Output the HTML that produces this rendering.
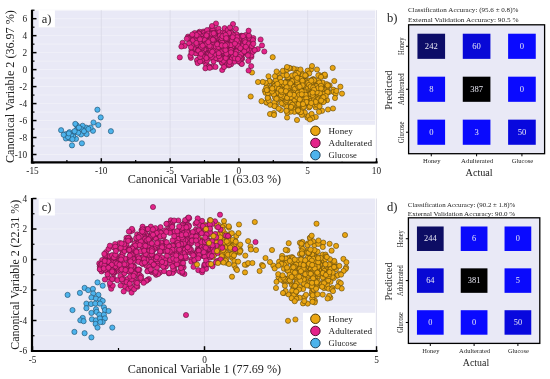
<!DOCTYPE html>
<html><head><meta charset="utf-8"><title>Figure</title>
<style>html,body{margin:0;padding:0;background:#fff}svg{display:block}</style></head>
<body><svg width="550" height="379" viewBox="0 0 550 379">
<rect width="550" height="379" fill="#fff"/>
<rect x="32.5" y="10.6" width="342.8" height="152.4" fill="#e9e9f6"/>
<line x1="32.5" x2="375.3" y1="163.00" y2="163.00" stroke="#f1f1f9" stroke-width="0.8"/>
<line x1="32.5" x2="375.3" y1="146.02" y2="146.02" stroke="#f1f1f9" stroke-width="0.8"/>
<line x1="32.5" x2="375.3" y1="129.04" y2="129.04" stroke="#f1f1f9" stroke-width="0.8"/>
<line x1="32.5" x2="375.3" y1="112.07" y2="112.07" stroke="#f1f1f9" stroke-width="0.8"/>
<line x1="32.5" x2="375.3" y1="95.09" y2="95.09" stroke="#f1f1f9" stroke-width="0.8"/>
<line x1="32.5" x2="375.3" y1="78.11" y2="78.11" stroke="#f1f1f9" stroke-width="0.8"/>
<line x1="32.5" x2="375.3" y1="61.13" y2="61.13" stroke="#f1f1f9" stroke-width="0.8"/>
<line x1="32.5" x2="375.3" y1="44.16" y2="44.16" stroke="#f1f1f9" stroke-width="0.8"/>
<line x1="32.5" x2="375.3" y1="27.18" y2="27.18" stroke="#f1f1f9" stroke-width="0.8"/>
<line x1="32.5" x2="375.3" y1="10.20" y2="10.20" stroke="#f1f1f9" stroke-width="0.8"/>
<line x1="32.5" x2="375.3" y1="154.51" y2="154.51" stroke="#f1f1f9" stroke-width="0.8"/>
<line x1="32.5" x2="375.3" y1="137.53" y2="137.53" stroke="#f1f1f9" stroke-width="0.8"/>
<line x1="32.5" x2="375.3" y1="120.56" y2="120.56" stroke="#f1f1f9" stroke-width="0.8"/>
<line x1="32.5" x2="375.3" y1="103.58" y2="103.58" stroke="#f1f1f9" stroke-width="0.8"/>
<line x1="32.5" x2="375.3" y1="86.60" y2="86.60" stroke="#f1f1f9" stroke-width="0.8"/>
<line x1="32.5" x2="375.3" y1="69.62" y2="69.62" stroke="#f1f1f9" stroke-width="0.8"/>
<line x1="32.5" x2="375.3" y1="52.64" y2="52.64" stroke="#f1f1f9" stroke-width="0.8"/>
<line x1="32.5" x2="375.3" y1="35.67" y2="35.67" stroke="#f1f1f9" stroke-width="0.8"/>
<line x1="32.5" x2="375.3" y1="18.69" y2="18.69" stroke="#f1f1f9" stroke-width="0.8"/>
<line y1="10.2" y2="163" x1="32.50" x2="32.50" stroke="#d9d9e6" stroke-width="0.8"/>
<line y1="10.2" y2="163" x1="101.30" x2="101.30" stroke="#d9d9e6" stroke-width="0.8"/>
<line y1="10.2" y2="163" x1="170.10" x2="170.10" stroke="#d9d9e6" stroke-width="0.8"/>
<line y1="10.2" y2="163" x1="238.90" x2="238.90" stroke="#d9d9e6" stroke-width="0.8"/>
<line y1="10.2" y2="163" x1="307.70" x2="307.70" stroke="#d9d9e6" stroke-width="0.8"/>
<line y1="10.2" y2="163" x1="376.50" x2="376.50" stroke="#d9d9e6" stroke-width="0.8"/>
<g fill="#eaa512" stroke="#5c440a" stroke-width="0.6">
<circle cx="299.0" cy="97.1" r="2.6"/>
<circle cx="293.9" cy="82.8" r="2.6"/>
<circle cx="290.6" cy="81.6" r="2.6"/>
<circle cx="300.1" cy="109.6" r="2.6"/>
<circle cx="289.9" cy="86.1" r="2.6"/>
<circle cx="308.1" cy="97.8" r="2.6"/>
<circle cx="301.0" cy="82.3" r="2.6"/>
<circle cx="298.5" cy="101.8" r="2.6"/>
<circle cx="274.1" cy="88.0" r="2.6"/>
<circle cx="264.9" cy="90.7" r="2.6"/>
<circle cx="275.6" cy="96.8" r="2.6"/>
<circle cx="301.9" cy="91.3" r="2.6"/>
<circle cx="298.1" cy="94.9" r="2.6"/>
<circle cx="270.7" cy="87.8" r="2.6"/>
<circle cx="280.9" cy="83.8" r="2.6"/>
<circle cx="318.6" cy="83.8" r="2.6"/>
<circle cx="298.4" cy="104.1" r="2.6"/>
<circle cx="288.2" cy="92.2" r="2.6"/>
<circle cx="301.0" cy="94.3" r="2.6"/>
<circle cx="276.3" cy="94.4" r="2.6"/>
<circle cx="324.1" cy="74.9" r="2.6"/>
<circle cx="314.9" cy="94.9" r="2.6"/>
<circle cx="287.1" cy="117.5" r="2.6"/>
<circle cx="313.1" cy="79.1" r="2.6"/>
<circle cx="300.4" cy="100.4" r="2.6"/>
<circle cx="295.5" cy="101.7" r="2.6"/>
<circle cx="297.8" cy="101.5" r="2.6"/>
<circle cx="325.6" cy="85.4" r="2.6"/>
<circle cx="302.8" cy="87.9" r="2.6"/>
<circle cx="301.4" cy="79.3" r="2.6"/>
<circle cx="288.3" cy="91.1" r="2.6"/>
<circle cx="315.6" cy="107.2" r="2.6"/>
<circle cx="274.5" cy="84.0" r="2.6"/>
<circle cx="311.0" cy="69.6" r="2.6"/>
<circle cx="290.4" cy="92.3" r="2.6"/>
<circle cx="322.3" cy="101.8" r="2.6"/>
<circle cx="292.9" cy="89.1" r="2.6"/>
<circle cx="294.4" cy="111.8" r="2.6"/>
<circle cx="291.1" cy="89.9" r="2.6"/>
<circle cx="305.5" cy="92.1" r="2.6"/>
<circle cx="295.4" cy="80.1" r="2.6"/>
<circle cx="298.8" cy="88.2" r="2.6"/>
<circle cx="320.6" cy="101.3" r="2.6"/>
<circle cx="298.6" cy="101.5" r="2.6"/>
<circle cx="292.7" cy="106.1" r="2.6"/>
<circle cx="298.9" cy="100.5" r="2.6"/>
<circle cx="275.1" cy="97.7" r="2.6"/>
<circle cx="293.4" cy="82.7" r="2.6"/>
<circle cx="283.6" cy="86.0" r="2.6"/>
<circle cx="302.8" cy="99.4" r="2.6"/>
<circle cx="295.7" cy="91.0" r="2.6"/>
<circle cx="312.0" cy="99.7" r="2.6"/>
<circle cx="279.9" cy="92.5" r="2.6"/>
<circle cx="299.7" cy="80.8" r="2.6"/>
<circle cx="303.8" cy="83.2" r="2.6"/>
<circle cx="317.0" cy="95.8" r="2.6"/>
<circle cx="300.7" cy="86.4" r="2.6"/>
<circle cx="296.8" cy="69.5" r="2.6"/>
<circle cx="278.1" cy="97.9" r="2.6"/>
<circle cx="266.7" cy="102.6" r="2.6"/>
<circle cx="283.4" cy="102.8" r="2.6"/>
<circle cx="301.4" cy="75.1" r="2.6"/>
<circle cx="322.1" cy="110.8" r="2.6"/>
<circle cx="297.8" cy="90.2" r="2.6"/>
<circle cx="296.0" cy="81.8" r="2.6"/>
<circle cx="319.3" cy="87.0" r="2.6"/>
<circle cx="298.1" cy="84.0" r="2.6"/>
<circle cx="287.4" cy="78.2" r="2.6"/>
<circle cx="322.3" cy="91.7" r="2.6"/>
<circle cx="316.9" cy="93.7" r="2.6"/>
<circle cx="286.2" cy="89.6" r="2.6"/>
<circle cx="288.6" cy="93.6" r="2.6"/>
<circle cx="292.1" cy="89.9" r="2.6"/>
<circle cx="273.5" cy="83.8" r="2.6"/>
<circle cx="329.6" cy="85.4" r="2.6"/>
<circle cx="279.5" cy="97.5" r="2.6"/>
<circle cx="325.0" cy="76.1" r="2.6"/>
<circle cx="295.1" cy="85.9" r="2.6"/>
<circle cx="266.4" cy="102.3" r="2.6"/>
<circle cx="298.6" cy="94.4" r="2.6"/>
<circle cx="285.1" cy="99.0" r="2.6"/>
<circle cx="289.0" cy="91.8" r="2.6"/>
<circle cx="278.5" cy="78.9" r="2.6"/>
<circle cx="323.7" cy="87.4" r="2.6"/>
<circle cx="304.4" cy="93.1" r="2.6"/>
<circle cx="290.8" cy="87.4" r="2.6"/>
<circle cx="310.7" cy="89.9" r="2.6"/>
<circle cx="296.2" cy="93.8" r="2.6"/>
<circle cx="320.8" cy="101.7" r="2.6"/>
<circle cx="306.1" cy="86.7" r="2.6"/>
<circle cx="273.4" cy="104.9" r="2.6"/>
<circle cx="316.9" cy="91.8" r="2.6"/>
<circle cx="309.0" cy="102.9" r="2.6"/>
<circle cx="314.4" cy="104.6" r="2.6"/>
<circle cx="290.6" cy="111.7" r="2.6"/>
<circle cx="275.9" cy="103.8" r="2.6"/>
<circle cx="308.1" cy="104.0" r="2.6"/>
<circle cx="277.8" cy="73.2" r="2.6"/>
<circle cx="314.1" cy="81.3" r="2.6"/>
<circle cx="298.8" cy="103.6" r="2.6"/>
<circle cx="303.8" cy="94.0" r="2.6"/>
<circle cx="294.5" cy="94.0" r="2.6"/>
<circle cx="283.1" cy="75.3" r="2.6"/>
<circle cx="295.9" cy="81.8" r="2.6"/>
<circle cx="268.6" cy="99.6" r="2.6"/>
<circle cx="297.9" cy="98.4" r="2.6"/>
<circle cx="280.7" cy="85.6" r="2.6"/>
<circle cx="280.5" cy="82.9" r="2.6"/>
<circle cx="302.6" cy="84.1" r="2.6"/>
<circle cx="305.6" cy="97.6" r="2.6"/>
<circle cx="315.4" cy="92.4" r="2.6"/>
<circle cx="298.7" cy="76.1" r="2.6"/>
<circle cx="290.5" cy="102.4" r="2.6"/>
<circle cx="297.5" cy="94.5" r="2.6"/>
<circle cx="293.6" cy="107.4" r="2.6"/>
<circle cx="286.2" cy="69.9" r="2.6"/>
<circle cx="323.7" cy="94.1" r="2.6"/>
<circle cx="277.3" cy="82.2" r="2.6"/>
<circle cx="319.9" cy="95.4" r="2.6"/>
<circle cx="299.9" cy="92.9" r="2.6"/>
<circle cx="299.7" cy="103.2" r="2.6"/>
<circle cx="309.2" cy="96.1" r="2.6"/>
<circle cx="279.7" cy="99.6" r="2.6"/>
<circle cx="286.3" cy="106.6" r="2.6"/>
<circle cx="275.5" cy="91.8" r="2.6"/>
<circle cx="298.9" cy="77.6" r="2.6"/>
<circle cx="290.4" cy="102.8" r="2.6"/>
<circle cx="303.6" cy="92.8" r="2.6"/>
<circle cx="300.5" cy="80.6" r="2.6"/>
<circle cx="294.0" cy="91.4" r="2.6"/>
<circle cx="321.0" cy="97.5" r="2.6"/>
<circle cx="298.9" cy="111.8" r="2.6"/>
<circle cx="288.7" cy="88.8" r="2.6"/>
<circle cx="316.8" cy="104.5" r="2.6"/>
<circle cx="311.4" cy="94.8" r="2.6"/>
<circle cx="303.0" cy="90.5" r="2.6"/>
<circle cx="295.2" cy="94.2" r="2.6"/>
<circle cx="327.0" cy="100.2" r="2.6"/>
<circle cx="297.9" cy="86.5" r="2.6"/>
<circle cx="287.3" cy="112.7" r="2.6"/>
<circle cx="308.4" cy="94.3" r="2.6"/>
<circle cx="292.6" cy="80.2" r="2.6"/>
<circle cx="297.8" cy="104.0" r="2.6"/>
<circle cx="291.7" cy="90.8" r="2.6"/>
<circle cx="294.9" cy="94.8" r="2.6"/>
<circle cx="269.5" cy="90.7" r="2.6"/>
<circle cx="283.2" cy="104.1" r="2.6"/>
<circle cx="284.7" cy="100.4" r="2.6"/>
<circle cx="327.2" cy="89.7" r="2.6"/>
<circle cx="287.9" cy="95.8" r="2.6"/>
<circle cx="299.0" cy="81.6" r="2.6"/>
<circle cx="307.5" cy="117.7" r="2.6"/>
<circle cx="294.2" cy="91.1" r="2.6"/>
<circle cx="279.7" cy="97.3" r="2.6"/>
<circle cx="275.9" cy="80.2" r="2.6"/>
<circle cx="322.7" cy="82.6" r="2.6"/>
<circle cx="319.0" cy="111.8" r="2.6"/>
<circle cx="303.8" cy="100.1" r="2.6"/>
<circle cx="335.1" cy="91.1" r="2.6"/>
<circle cx="288.0" cy="77.3" r="2.6"/>
<circle cx="299.8" cy="111.2" r="2.6"/>
<circle cx="316.8" cy="82.2" r="2.6"/>
<circle cx="283.2" cy="87.4" r="2.6"/>
<circle cx="304.4" cy="91.0" r="2.6"/>
<circle cx="303.0" cy="97.1" r="2.6"/>
<circle cx="293.5" cy="93.0" r="2.6"/>
<circle cx="302.8" cy="92.5" r="2.6"/>
<circle cx="308.3" cy="116.0" r="2.6"/>
<circle cx="310.0" cy="94.2" r="2.6"/>
<circle cx="267.8" cy="98.2" r="2.6"/>
<circle cx="314.8" cy="102.0" r="2.6"/>
<circle cx="296.2" cy="73.0" r="2.6"/>
<circle cx="292.1" cy="85.4" r="2.6"/>
<circle cx="303.0" cy="84.1" r="2.6"/>
<circle cx="277.3" cy="92.8" r="2.6"/>
<circle cx="295.7" cy="79.7" r="2.6"/>
<circle cx="301.2" cy="79.7" r="2.6"/>
<circle cx="319.6" cy="106.3" r="2.6"/>
<circle cx="319.1" cy="87.8" r="2.6"/>
<circle cx="308.5" cy="91.9" r="2.6"/>
<circle cx="291.8" cy="89.4" r="2.6"/>
<circle cx="275.0" cy="76.2" r="2.6"/>
<circle cx="313.7" cy="91.2" r="2.6"/>
<circle cx="303.0" cy="105.5" r="2.6"/>
<circle cx="266.9" cy="84.1" r="2.6"/>
<circle cx="302.2" cy="98.2" r="2.6"/>
<circle cx="292.0" cy="105.9" r="2.6"/>
<circle cx="302.9" cy="78.9" r="2.6"/>
<circle cx="281.8" cy="103.2" r="2.6"/>
<circle cx="307.6" cy="70.7" r="2.6"/>
<circle cx="323.9" cy="100.7" r="2.6"/>
<circle cx="323.9" cy="88.9" r="2.6"/>
<circle cx="293.5" cy="80.0" r="2.6"/>
<circle cx="328.4" cy="85.7" r="2.6"/>
<circle cx="302.0" cy="73.4" r="2.6"/>
<circle cx="291.9" cy="105.3" r="2.6"/>
<circle cx="275.8" cy="106.4" r="2.6"/>
<circle cx="305.2" cy="81.0" r="2.6"/>
<circle cx="289.7" cy="88.0" r="2.6"/>
<circle cx="298.1" cy="87.1" r="2.6"/>
<circle cx="283.7" cy="89.8" r="2.6"/>
<circle cx="280.0" cy="78.0" r="2.6"/>
<circle cx="298.1" cy="104.1" r="2.6"/>
<circle cx="270.7" cy="93.5" r="2.6"/>
<circle cx="287.0" cy="81.8" r="2.6"/>
<circle cx="314.8" cy="87.3" r="2.6"/>
<circle cx="326.7" cy="84.1" r="2.6"/>
<circle cx="306.2" cy="90.8" r="2.6"/>
<circle cx="285.1" cy="100.6" r="2.6"/>
<circle cx="296.1" cy="100.7" r="2.6"/>
<circle cx="298.1" cy="80.5" r="2.6"/>
<circle cx="297.1" cy="94.1" r="2.6"/>
<circle cx="316.7" cy="82.6" r="2.6"/>
<circle cx="298.3" cy="72.8" r="2.6"/>
<circle cx="311.1" cy="80.5" r="2.6"/>
<circle cx="265.6" cy="92.8" r="2.6"/>
<circle cx="319.5" cy="75.2" r="2.6"/>
<circle cx="278.9" cy="84.6" r="2.6"/>
<circle cx="278.1" cy="98.1" r="2.6"/>
<circle cx="284.1" cy="84.8" r="2.6"/>
<circle cx="309.8" cy="84.4" r="2.6"/>
<circle cx="307.0" cy="81.8" r="2.6"/>
<circle cx="276.6" cy="71.5" r="2.6"/>
<circle cx="333.4" cy="89.7" r="2.6"/>
<circle cx="303.5" cy="93.1" r="2.6"/>
<circle cx="302.0" cy="94.1" r="2.6"/>
<circle cx="334.3" cy="81.0" r="2.6"/>
<circle cx="270.2" cy="81.4" r="2.6"/>
<circle cx="274.3" cy="102.5" r="2.6"/>
<circle cx="314.2" cy="82.0" r="2.6"/>
<circle cx="273.3" cy="89.2" r="2.6"/>
<circle cx="308.7" cy="80.6" r="2.6"/>
<circle cx="318.2" cy="80.6" r="2.6"/>
<circle cx="293.7" cy="75.4" r="2.6"/>
<circle cx="280.9" cy="110.1" r="2.6"/>
<circle cx="314.2" cy="88.7" r="2.6"/>
<circle cx="282.9" cy="70.8" r="2.6"/>
<circle cx="291.7" cy="93.1" r="2.6"/>
<circle cx="297.4" cy="92.4" r="2.6"/>
<circle cx="278.2" cy="92.7" r="2.6"/>
<circle cx="298.3" cy="109.0" r="2.6"/>
<circle cx="333.5" cy="91.9" r="2.6"/>
<circle cx="284.8" cy="92.7" r="2.6"/>
<circle cx="287.8" cy="84.6" r="2.6"/>
<circle cx="297.9" cy="81.0" r="2.6"/>
<circle cx="310.2" cy="92.3" r="2.6"/>
<circle cx="303.6" cy="91.3" r="2.6"/>
<circle cx="285.5" cy="82.1" r="2.6"/>
<circle cx="294.6" cy="86.9" r="2.6"/>
<circle cx="303.3" cy="93.4" r="2.6"/>
<circle cx="273.8" cy="94.3" r="2.6"/>
<circle cx="274.2" cy="86.1" r="2.6"/>
<circle cx="293.6" cy="68.6" r="2.6"/>
<circle cx="300.7" cy="95.3" r="2.6"/>
<circle cx="296.1" cy="88.4" r="2.6"/>
<circle cx="292.1" cy="81.8" r="2.6"/>
<circle cx="294.0" cy="86.9" r="2.6"/>
<circle cx="300.7" cy="79.1" r="2.6"/>
<circle cx="303.4" cy="95.2" r="2.6"/>
<circle cx="296.4" cy="88.2" r="2.6"/>
<circle cx="309.2" cy="73.5" r="2.6"/>
<circle cx="307.5" cy="96.4" r="2.6"/>
<circle cx="304.2" cy="98.1" r="2.6"/>
<circle cx="286.9" cy="90.4" r="2.6"/>
<circle cx="310.8" cy="98.7" r="2.6"/>
<circle cx="302.8" cy="75.3" r="2.6"/>
<circle cx="309.0" cy="107.5" r="2.6"/>
<circle cx="317.7" cy="96.3" r="2.6"/>
<circle cx="270.2" cy="104.8" r="2.6"/>
<circle cx="306.0" cy="75.6" r="2.6"/>
<circle cx="275.0" cy="85.9" r="2.6"/>
<circle cx="322.5" cy="89.0" r="2.6"/>
<circle cx="304.0" cy="114.5" r="2.6"/>
<circle cx="328.5" cy="92.3" r="2.6"/>
<circle cx="294.5" cy="78.4" r="2.6"/>
<circle cx="286.2" cy="98.6" r="2.6"/>
<circle cx="306.3" cy="94.8" r="2.6"/>
<circle cx="317.4" cy="84.2" r="2.6"/>
<circle cx="298.0" cy="102.3" r="2.6"/>
<circle cx="309.8" cy="106.4" r="2.6"/>
<circle cx="306.3" cy="89.8" r="2.6"/>
<circle cx="305.7" cy="81.5" r="2.6"/>
<circle cx="268.7" cy="100.5" r="2.6"/>
<circle cx="298.0" cy="97.2" r="2.6"/>
<circle cx="267.6" cy="89.1" r="2.6"/>
<circle cx="287.9" cy="83.1" r="2.6"/>
<circle cx="315.6" cy="98.1" r="2.6"/>
<circle cx="287.9" cy="93.3" r="2.6"/>
<circle cx="296.7" cy="100.0" r="2.6"/>
<circle cx="311.6" cy="113.9" r="2.6"/>
<circle cx="320.0" cy="97.3" r="2.6"/>
<circle cx="304.6" cy="102.9" r="2.6"/>
<circle cx="289.0" cy="93.0" r="2.6"/>
<circle cx="315.8" cy="117.0" r="2.6"/>
<circle cx="296.1" cy="92.9" r="2.6"/>
<circle cx="302.7" cy="109.6" r="2.6"/>
<circle cx="298.4" cy="111.1" r="2.6"/>
<circle cx="281.1" cy="91.3" r="2.6"/>
<circle cx="295.3" cy="102.9" r="2.6"/>
<circle cx="318.3" cy="75.4" r="2.6"/>
<circle cx="282.1" cy="97.5" r="2.6"/>
<circle cx="286.8" cy="75.2" r="2.6"/>
<circle cx="318.2" cy="99.4" r="2.6"/>
<circle cx="308.1" cy="87.8" r="2.6"/>
<circle cx="318.0" cy="90.6" r="2.6"/>
<circle cx="319.3" cy="82.6" r="2.6"/>
<circle cx="283.2" cy="96.0" r="2.6"/>
<circle cx="286.0" cy="101.6" r="2.6"/>
<circle cx="303.8" cy="82.4" r="2.6"/>
<circle cx="300.3" cy="89.3" r="2.6"/>
<circle cx="315.9" cy="85.9" r="2.6"/>
<circle cx="290.9" cy="108.0" r="2.6"/>
<circle cx="300.2" cy="96.1" r="2.6"/>
<circle cx="327.4" cy="92.0" r="2.6"/>
<circle cx="280.9" cy="94.9" r="2.6"/>
<circle cx="307.4" cy="83.6" r="2.6"/>
<circle cx="268.5" cy="76.3" r="2.6"/>
<circle cx="311.3" cy="84.4" r="2.6"/>
<circle cx="296.4" cy="96.1" r="2.6"/>
<circle cx="310.5" cy="89.5" r="2.6"/>
<circle cx="308.2" cy="82.8" r="2.6"/>
<circle cx="292.3" cy="81.2" r="2.6"/>
<circle cx="319.9" cy="93.2" r="2.6"/>
<circle cx="285.3" cy="89.3" r="2.6"/>
<circle cx="294.9" cy="101.9" r="2.6"/>
<circle cx="269.5" cy="81.1" r="2.6"/>
<circle cx="316.7" cy="92.2" r="2.6"/>
<circle cx="312.2" cy="118.2" r="2.6"/>
<circle cx="294.7" cy="89.1" r="2.6"/>
<circle cx="321.4" cy="99.4" r="2.6"/>
<circle cx="311.4" cy="87.4" r="2.6"/>
<circle cx="309.5" cy="101.7" r="2.6"/>
<circle cx="261.5" cy="101.2" r="2.6"/>
<circle cx="295.4" cy="98.7" r="2.6"/>
<circle cx="311.6" cy="89.4" r="2.6"/>
<circle cx="267.7" cy="97.9" r="2.6"/>
<circle cx="285.3" cy="89.5" r="2.6"/>
<circle cx="287.8" cy="89.4" r="2.6"/>
<circle cx="303.7" cy="106.8" r="2.6"/>
<circle cx="335.6" cy="93.8" r="2.6"/>
<circle cx="265.7" cy="82.8" r="2.6"/>
<circle cx="276.7" cy="87.5" r="2.6"/>
<circle cx="300.5" cy="69.5" r="2.6"/>
<circle cx="305.3" cy="75.4" r="2.6"/>
<circle cx="304.5" cy="92.2" r="2.6"/>
<circle cx="293.2" cy="92.6" r="2.6"/>
<circle cx="289.0" cy="86.2" r="2.6"/>
<circle cx="267.9" cy="93.1" r="2.6"/>
<circle cx="323.5" cy="102.0" r="2.6"/>
<circle cx="286.5" cy="110.8" r="2.6"/>
<circle cx="298.0" cy="92.7" r="2.6"/>
<circle cx="293.6" cy="94.6" r="2.6"/>
<circle cx="290.9" cy="92.5" r="2.6"/>
<circle cx="278.9" cy="89.0" r="2.6"/>
<circle cx="294.6" cy="99.9" r="2.6"/>
<circle cx="312.1" cy="80.1" r="2.6"/>
<circle cx="295.2" cy="104.5" r="2.6"/>
<circle cx="304.0" cy="95.0" r="2.6"/>
<circle cx="327.7" cy="85.4" r="2.6"/>
<circle cx="300.5" cy="87.3" r="2.6"/>
<circle cx="286.6" cy="87.2" r="2.6"/>
<circle cx="311.3" cy="100.8" r="2.6"/>
<circle cx="324.8" cy="74.6" r="2.6"/>
<circle cx="312.9" cy="90.0" r="2.6"/>
<circle cx="286.7" cy="100.0" r="2.6"/>
<circle cx="292.2" cy="75.5" r="2.6"/>
<circle cx="287.0" cy="98.0" r="2.6"/>
<circle cx="304.8" cy="112.5" r="2.6"/>
<circle cx="295.3" cy="75.1" r="2.6"/>
<circle cx="285.0" cy="82.5" r="2.6"/>
<circle cx="276.5" cy="98.7" r="2.6"/>
<circle cx="287.1" cy="69.8" r="2.6"/>
<circle cx="311.9" cy="92.2" r="2.6"/>
<circle cx="305.6" cy="94.8" r="2.6"/>
<circle cx="310.7" cy="94.0" r="2.6"/>
<circle cx="321.9" cy="98.6" r="2.6"/>
<circle cx="306.3" cy="98.4" r="2.6"/>
<circle cx="272.1" cy="91.5" r="2.6"/>
<circle cx="294.2" cy="96.0" r="2.6"/>
<circle cx="273.9" cy="113.1" r="2.6"/>
<circle cx="300.9" cy="79.0" r="2.6"/>
<circle cx="267.4" cy="90.1" r="2.6"/>
<circle cx="297.3" cy="84.9" r="2.6"/>
<circle cx="300.7" cy="85.8" r="2.6"/>
<circle cx="309.2" cy="84.8" r="2.6"/>
<circle cx="298.3" cy="105.2" r="2.6"/>
<circle cx="290.4" cy="83.4" r="2.6"/>
<circle cx="313.5" cy="79.7" r="2.6"/>
<circle cx="290.0" cy="93.1" r="2.6"/>
<circle cx="280.9" cy="82.0" r="2.6"/>
<circle cx="290.2" cy="68.3" r="2.6"/>
<circle cx="272.3" cy="88.5" r="2.6"/>
<circle cx="301.7" cy="91.3" r="2.6"/>
<circle cx="266.2" cy="87.9" r="2.6"/>
<circle cx="313.8" cy="100.2" r="2.6"/>
<circle cx="297.5" cy="82.9" r="2.6"/>
<circle cx="310.7" cy="86.6" r="2.6"/>
<circle cx="277.4" cy="83.9" r="2.6"/>
<circle cx="325.8" cy="96.1" r="2.6"/>
<circle cx="320.4" cy="87.7" r="2.6"/>
<circle cx="316.4" cy="86.3" r="2.6"/>
<circle cx="313.2" cy="87.5" r="2.6"/>
<circle cx="297.4" cy="97.4" r="2.6"/>
<circle cx="321.4" cy="87.6" r="2.6"/>
<circle cx="266.8" cy="90.1" r="2.6"/>
<circle cx="299.3" cy="94.8" r="2.6"/>
<circle cx="323.4" cy="97.3" r="2.6"/>
<circle cx="314.0" cy="80.3" r="2.6"/>
<circle cx="313.3" cy="96.5" r="2.6"/>
<circle cx="301.8" cy="114.9" r="2.6"/>
<circle cx="281.8" cy="92.2" r="2.6"/>
<circle cx="307.5" cy="102.4" r="2.6"/>
<circle cx="290.9" cy="97.2" r="2.6"/>
<circle cx="293.9" cy="94.9" r="2.6"/>
<circle cx="296.6" cy="79.8" r="2.6"/>
<circle cx="298.6" cy="104.0" r="2.6"/>
<circle cx="281.1" cy="90.6" r="2.6"/>
<circle cx="311.3" cy="80.7" r="2.6"/>
<circle cx="302.4" cy="80.8" r="2.6"/>
<circle cx="336.4" cy="90.9" r="2.6"/>
<circle cx="312.7" cy="95.0" r="2.6"/>
<circle cx="300.9" cy="112.1" r="2.6"/>
<circle cx="274.6" cy="106.2" r="2.6"/>
<circle cx="298.1" cy="110.4" r="2.6"/>
<circle cx="302.5" cy="85.4" r="2.6"/>
<circle cx="304.1" cy="102.3" r="2.6"/>
<circle cx="299.7" cy="99.4" r="2.6"/>
<circle cx="289.3" cy="67.9" r="2.6"/>
<circle cx="315.7" cy="101.9" r="2.6"/>
<circle cx="301.7" cy="94.3" r="2.6"/>
<circle cx="318.2" cy="88.0" r="2.6"/>
<circle cx="285.9" cy="91.2" r="2.6"/>
<circle cx="321.0" cy="76.9" r="2.6"/>
<circle cx="321.0" cy="85.8" r="2.6"/>
<circle cx="278.6" cy="108.6" r="2.6"/>
<circle cx="297.2" cy="77.9" r="2.6"/>
<circle cx="292.4" cy="104.7" r="2.6"/>
<circle cx="321.1" cy="88.4" r="2.6"/>
<circle cx="306.5" cy="102.1" r="2.6"/>
<circle cx="287.1" cy="97.8" r="2.6"/>
<circle cx="298.4" cy="87.1" r="2.6"/>
<circle cx="289.9" cy="94.3" r="2.6"/>
<circle cx="299.6" cy="86.7" r="2.6"/>
<circle cx="291.1" cy="106.9" r="2.6"/>
<circle cx="303.0" cy="104.1" r="2.6"/>
<circle cx="321.2" cy="100.6" r="2.6"/>
<circle cx="314.0" cy="89.7" r="2.6"/>
<circle cx="262.8" cy="81.9" r="2.6"/>
<circle cx="311.3" cy="103.0" r="2.6"/>
<circle cx="312.6" cy="92.6" r="2.6"/>
<circle cx="272.7" cy="57.2" r="2.6"/>
<circle cx="250.7" cy="96.5" r="2.6"/>
<circle cx="332.7" cy="67.9" r="2.6"/>
<circle cx="340.4" cy="86.7" r="2.6"/>
<circle cx="342.0" cy="93.6" r="2.6"/>
<circle cx="252.0" cy="72.5" r="2.6"/>
<circle cx="312.0" cy="66.0" r="2.6"/>
<circle cx="317.0" cy="69.5" r="2.6"/>
<circle cx="287.0" cy="67.0" r="2.6"/>
<circle cx="258.0" cy="82.0" r="2.6"/>
<circle cx="270.0" cy="114.0" r="2.6"/>
<circle cx="274.0" cy="115.0" r="2.6"/>
<circle cx="297.0" cy="120.0" r="2.6"/>
<circle cx="310.0" cy="119.5" r="2.6"/>
<circle cx="328.0" cy="109.5" r="2.6"/>
<circle cx="333.0" cy="108.5" r="2.6"/>
<circle cx="335.0" cy="98.0" r="2.6"/>
</g>
<g fill="#e3238a" stroke="#611039" stroke-width="0.6">
<circle cx="228.3" cy="53.4" r="2.6"/>
<circle cx="218.6" cy="57.1" r="2.6"/>
<circle cx="201.1" cy="56.4" r="2.6"/>
<circle cx="215.8" cy="38.3" r="2.6"/>
<circle cx="226.8" cy="38.1" r="2.6"/>
<circle cx="203.3" cy="31.6" r="2.6"/>
<circle cx="219.5" cy="51.9" r="2.6"/>
<circle cx="238.7" cy="45.6" r="2.6"/>
<circle cx="239.2" cy="47.2" r="2.6"/>
<circle cx="218.3" cy="52.6" r="2.6"/>
<circle cx="239.4" cy="43.7" r="2.6"/>
<circle cx="215.5" cy="45.4" r="2.6"/>
<circle cx="221.5" cy="38.2" r="2.6"/>
<circle cx="238.8" cy="43.1" r="2.6"/>
<circle cx="228.5" cy="38.9" r="2.6"/>
<circle cx="226.6" cy="50.8" r="2.6"/>
<circle cx="212.3" cy="66.8" r="2.6"/>
<circle cx="226.8" cy="64.4" r="2.6"/>
<circle cx="237.6" cy="40.5" r="2.6"/>
<circle cx="213.0" cy="51.3" r="2.6"/>
<circle cx="221.1" cy="47.5" r="2.6"/>
<circle cx="214.8" cy="29.3" r="2.6"/>
<circle cx="226.8" cy="39.9" r="2.6"/>
<circle cx="206.9" cy="44.9" r="2.6"/>
<circle cx="225.0" cy="33.0" r="2.6"/>
<circle cx="188.0" cy="36.6" r="2.6"/>
<circle cx="249.1" cy="36.6" r="2.6"/>
<circle cx="231.9" cy="33.6" r="2.6"/>
<circle cx="225.5" cy="43.9" r="2.6"/>
<circle cx="218.9" cy="52.6" r="2.6"/>
<circle cx="252.1" cy="48.9" r="2.6"/>
<circle cx="222.3" cy="37.5" r="2.6"/>
<circle cx="230.7" cy="44.6" r="2.6"/>
<circle cx="235.2" cy="46.6" r="2.6"/>
<circle cx="214.6" cy="55.6" r="2.6"/>
<circle cx="213.6" cy="39.2" r="2.6"/>
<circle cx="215.1" cy="33.5" r="2.6"/>
<circle cx="241.0" cy="36.1" r="2.6"/>
<circle cx="204.0" cy="43.0" r="2.6"/>
<circle cx="238.4" cy="38.9" r="2.6"/>
<circle cx="207.4" cy="55.7" r="2.6"/>
<circle cx="235.8" cy="43.3" r="2.6"/>
<circle cx="199.5" cy="31.8" r="2.6"/>
<circle cx="233.7" cy="40.8" r="2.6"/>
<circle cx="228.8" cy="65.3" r="2.6"/>
<circle cx="241.5" cy="35.7" r="2.6"/>
<circle cx="235.9" cy="58.3" r="2.6"/>
<circle cx="206.3" cy="37.7" r="2.6"/>
<circle cx="218.0" cy="31.3" r="2.6"/>
<circle cx="199.7" cy="44.4" r="2.6"/>
<circle cx="215.8" cy="48.6" r="2.6"/>
<circle cx="225.0" cy="44.9" r="2.6"/>
<circle cx="220.0" cy="40.0" r="2.6"/>
<circle cx="222.4" cy="49.2" r="2.6"/>
<circle cx="203.3" cy="40.7" r="2.6"/>
<circle cx="234.5" cy="50.4" r="2.6"/>
<circle cx="234.3" cy="49.2" r="2.6"/>
<circle cx="216.2" cy="41.7" r="2.6"/>
<circle cx="216.1" cy="41.6" r="2.6"/>
<circle cx="233.6" cy="43.1" r="2.6"/>
<circle cx="211.9" cy="35.2" r="2.6"/>
<circle cx="219.1" cy="38.2" r="2.6"/>
<circle cx="216.7" cy="57.2" r="2.6"/>
<circle cx="226.7" cy="51.9" r="2.6"/>
<circle cx="226.5" cy="47.6" r="2.6"/>
<circle cx="217.7" cy="44.0" r="2.6"/>
<circle cx="233.9" cy="36.4" r="2.6"/>
<circle cx="244.5" cy="47.3" r="2.6"/>
<circle cx="206.3" cy="42.2" r="2.6"/>
<circle cx="207.6" cy="48.6" r="2.6"/>
<circle cx="206.9" cy="58.2" r="2.6"/>
<circle cx="219.3" cy="57.4" r="2.6"/>
<circle cx="231.9" cy="33.9" r="2.6"/>
<circle cx="206.1" cy="64.4" r="2.6"/>
<circle cx="225.8" cy="47.0" r="2.6"/>
<circle cx="243.7" cy="48.4" r="2.6"/>
<circle cx="226.5" cy="53.0" r="2.6"/>
<circle cx="208.8" cy="36.6" r="2.6"/>
<circle cx="221.0" cy="37.7" r="2.6"/>
<circle cx="218.9" cy="47.9" r="2.6"/>
<circle cx="217.8" cy="45.4" r="2.6"/>
<circle cx="228.0" cy="57.3" r="2.6"/>
<circle cx="211.0" cy="39.0" r="2.6"/>
<circle cx="190.0" cy="37.9" r="2.6"/>
<circle cx="229.8" cy="47.4" r="2.6"/>
<circle cx="201.4" cy="43.3" r="2.6"/>
<circle cx="220.6" cy="51.9" r="2.6"/>
<circle cx="209.1" cy="44.5" r="2.6"/>
<circle cx="213.8" cy="49.1" r="2.6"/>
<circle cx="213.1" cy="39.1" r="2.6"/>
<circle cx="218.9" cy="47.0" r="2.6"/>
<circle cx="218.5" cy="28.6" r="2.6"/>
<circle cx="217.3" cy="38.6" r="2.6"/>
<circle cx="210.0" cy="49.2" r="2.6"/>
<circle cx="231.7" cy="55.8" r="2.6"/>
<circle cx="210.9" cy="56.1" r="2.6"/>
<circle cx="241.5" cy="58.1" r="2.6"/>
<circle cx="245.4" cy="45.6" r="2.6"/>
<circle cx="216.8" cy="55.1" r="2.6"/>
<circle cx="195.0" cy="49.1" r="2.6"/>
<circle cx="210.3" cy="43.4" r="2.6"/>
<circle cx="188.1" cy="38.3" r="2.6"/>
<circle cx="219.6" cy="55.7" r="2.6"/>
<circle cx="238.1" cy="46.2" r="2.6"/>
<circle cx="216.5" cy="38.9" r="2.6"/>
<circle cx="227.4" cy="44.6" r="2.6"/>
<circle cx="231.1" cy="64.2" r="2.6"/>
<circle cx="219.4" cy="32.3" r="2.6"/>
<circle cx="204.2" cy="32.7" r="2.6"/>
<circle cx="198.1" cy="59.8" r="2.6"/>
<circle cx="224.1" cy="32.1" r="2.6"/>
<circle cx="232.0" cy="59.4" r="2.6"/>
<circle cx="213.4" cy="40.4" r="2.6"/>
<circle cx="213.8" cy="49.8" r="2.6"/>
<circle cx="231.7" cy="58.6" r="2.6"/>
<circle cx="242.2" cy="58.6" r="2.6"/>
<circle cx="244.9" cy="53.5" r="2.6"/>
<circle cx="192.0" cy="45.7" r="2.6"/>
<circle cx="225.7" cy="43.2" r="2.6"/>
<circle cx="236.7" cy="43.5" r="2.6"/>
<circle cx="203.1" cy="61.2" r="2.6"/>
<circle cx="232.2" cy="49.1" r="2.6"/>
<circle cx="237.0" cy="57.4" r="2.6"/>
<circle cx="207.6" cy="42.5" r="2.6"/>
<circle cx="202.0" cy="48.9" r="2.6"/>
<circle cx="241.8" cy="42.2" r="2.6"/>
<circle cx="211.7" cy="34.9" r="2.6"/>
<circle cx="224.3" cy="51.2" r="2.6"/>
<circle cx="207.1" cy="54.7" r="2.6"/>
<circle cx="211.1" cy="38.0" r="2.6"/>
<circle cx="223.3" cy="54.6" r="2.6"/>
<circle cx="208.4" cy="50.2" r="2.6"/>
<circle cx="207.0" cy="60.6" r="2.6"/>
<circle cx="219.0" cy="45.8" r="2.6"/>
<circle cx="233.2" cy="55.8" r="2.6"/>
<circle cx="243.2" cy="50.2" r="2.6"/>
<circle cx="209.0" cy="41.7" r="2.6"/>
<circle cx="229.3" cy="52.7" r="2.6"/>
<circle cx="245.6" cy="51.1" r="2.6"/>
<circle cx="239.4" cy="61.9" r="2.6"/>
<circle cx="223.0" cy="32.4" r="2.6"/>
<circle cx="198.4" cy="32.9" r="2.6"/>
<circle cx="249.1" cy="38.7" r="2.6"/>
<circle cx="242.5" cy="52.7" r="2.6"/>
<circle cx="251.4" cy="56.8" r="2.6"/>
<circle cx="218.1" cy="45.0" r="2.6"/>
<circle cx="221.6" cy="48.7" r="2.6"/>
<circle cx="210.3" cy="46.7" r="2.6"/>
<circle cx="224.7" cy="38.1" r="2.6"/>
<circle cx="223.4" cy="55.2" r="2.6"/>
<circle cx="218.9" cy="54.6" r="2.6"/>
<circle cx="190.9" cy="57.8" r="2.6"/>
<circle cx="209.0" cy="53.1" r="2.6"/>
<circle cx="206.2" cy="49.2" r="2.6"/>
<circle cx="248.4" cy="49.8" r="2.6"/>
<circle cx="224.7" cy="33.2" r="2.6"/>
<circle cx="220.5" cy="44.8" r="2.6"/>
<circle cx="190.4" cy="55.7" r="2.6"/>
<circle cx="243.1" cy="52.3" r="2.6"/>
<circle cx="202.0" cy="60.1" r="2.6"/>
<circle cx="197.4" cy="44.9" r="2.6"/>
<circle cx="225.1" cy="55.7" r="2.6"/>
<circle cx="227.6" cy="50.8" r="2.6"/>
<circle cx="206.1" cy="34.4" r="2.6"/>
<circle cx="221.1" cy="40.0" r="2.6"/>
<circle cx="196.1" cy="34.6" r="2.6"/>
<circle cx="211.0" cy="28.8" r="2.6"/>
<circle cx="223.3" cy="51.0" r="2.6"/>
<circle cx="207.6" cy="55.9" r="2.6"/>
<circle cx="216.0" cy="43.8" r="2.6"/>
<circle cx="251.3" cy="43.7" r="2.6"/>
<circle cx="198.8" cy="34.1" r="2.6"/>
<circle cx="226.1" cy="50.0" r="2.6"/>
<circle cx="194.9" cy="37.3" r="2.6"/>
<circle cx="229.8" cy="52.7" r="2.6"/>
<circle cx="208.2" cy="53.1" r="2.6"/>
<circle cx="230.5" cy="29.5" r="2.6"/>
<circle cx="214.3" cy="51.1" r="2.6"/>
<circle cx="214.8" cy="54.4" r="2.6"/>
<circle cx="237.5" cy="59.1" r="2.6"/>
<circle cx="238.0" cy="48.5" r="2.6"/>
<circle cx="198.7" cy="53.1" r="2.6"/>
<circle cx="253.3" cy="38.1" r="2.6"/>
<circle cx="248.4" cy="46.8" r="2.6"/>
<circle cx="198.0" cy="45.3" r="2.6"/>
<circle cx="221.7" cy="37.3" r="2.6"/>
<circle cx="217.0" cy="45.9" r="2.6"/>
<circle cx="219.2" cy="58.8" r="2.6"/>
<circle cx="205.7" cy="43.7" r="2.6"/>
<circle cx="236.7" cy="34.8" r="2.6"/>
<circle cx="214.9" cy="34.1" r="2.6"/>
<circle cx="222.1" cy="63.0" r="2.6"/>
<circle cx="206.2" cy="49.2" r="2.6"/>
<circle cx="203.6" cy="35.7" r="2.6"/>
<circle cx="197.4" cy="61.3" r="2.6"/>
<circle cx="206.9" cy="53.9" r="2.6"/>
<circle cx="213.9" cy="54.9" r="2.6"/>
<circle cx="225.3" cy="49.7" r="2.6"/>
<circle cx="231.1" cy="41.3" r="2.6"/>
<circle cx="212.6" cy="30.1" r="2.6"/>
<circle cx="211.9" cy="33.1" r="2.6"/>
<circle cx="217.4" cy="37.6" r="2.6"/>
<circle cx="221.9" cy="51.4" r="2.6"/>
<circle cx="194.0" cy="39.0" r="2.6"/>
<circle cx="202.7" cy="54.3" r="2.6"/>
<circle cx="251.2" cy="55.3" r="2.6"/>
<circle cx="213.6" cy="61.4" r="2.6"/>
<circle cx="201.1" cy="48.7" r="2.6"/>
<circle cx="216.1" cy="48.0" r="2.6"/>
<circle cx="192.9" cy="40.3" r="2.6"/>
<circle cx="228.6" cy="49.2" r="2.6"/>
<circle cx="241.9" cy="47.8" r="2.6"/>
<circle cx="224.7" cy="28.2" r="2.6"/>
<circle cx="197.1" cy="60.0" r="2.6"/>
<circle cx="202.7" cy="52.2" r="2.6"/>
<circle cx="218.9" cy="36.8" r="2.6"/>
<circle cx="213.6" cy="42.0" r="2.6"/>
<circle cx="211.1" cy="54.4" r="2.6"/>
<circle cx="231.9" cy="41.3" r="2.6"/>
<circle cx="203.4" cy="49.8" r="2.6"/>
<circle cx="218.2" cy="57.1" r="2.6"/>
<circle cx="219.4" cy="45.3" r="2.6"/>
<circle cx="204.3" cy="38.1" r="2.6"/>
<circle cx="201.6" cy="43.1" r="2.6"/>
<circle cx="212.2" cy="54.3" r="2.6"/>
<circle cx="212.7" cy="45.1" r="2.6"/>
<circle cx="197.7" cy="63.1" r="2.6"/>
<circle cx="229.3" cy="64.5" r="2.6"/>
<circle cx="234.6" cy="61.6" r="2.6"/>
<circle cx="215.5" cy="54.0" r="2.6"/>
<circle cx="241.5" cy="63.6" r="2.6"/>
<circle cx="227.7" cy="54.5" r="2.6"/>
<circle cx="243.4" cy="40.4" r="2.6"/>
<circle cx="227.6" cy="38.3" r="2.6"/>
<circle cx="207.4" cy="40.8" r="2.6"/>
<circle cx="217.3" cy="48.5" r="2.6"/>
<circle cx="228.5" cy="32.8" r="2.6"/>
<circle cx="233.6" cy="43.4" r="2.6"/>
<circle cx="218.3" cy="52.5" r="2.6"/>
<circle cx="227.7" cy="30.1" r="2.6"/>
<circle cx="226.9" cy="45.9" r="2.6"/>
<circle cx="245.7" cy="35.1" r="2.6"/>
<circle cx="223.1" cy="61.7" r="2.6"/>
<circle cx="216.3" cy="42.8" r="2.6"/>
<circle cx="222.2" cy="42.5" r="2.6"/>
<circle cx="249.1" cy="37.9" r="2.6"/>
<circle cx="236.4" cy="34.4" r="2.6"/>
<circle cx="232.6" cy="45.9" r="2.6"/>
<circle cx="199.9" cy="42.5" r="2.6"/>
<circle cx="248.9" cy="35.7" r="2.6"/>
<circle cx="200.1" cy="61.5" r="2.6"/>
<circle cx="222.2" cy="62.5" r="2.6"/>
<circle cx="226.1" cy="38.1" r="2.6"/>
<circle cx="218.8" cy="59.4" r="2.6"/>
<circle cx="237.7" cy="47.0" r="2.6"/>
<circle cx="220.9" cy="45.9" r="2.6"/>
<circle cx="209.1" cy="66.5" r="2.6"/>
<circle cx="220.1" cy="35.6" r="2.6"/>
<circle cx="211.0" cy="54.3" r="2.6"/>
<circle cx="232.1" cy="45.6" r="2.6"/>
<circle cx="207.4" cy="47.2" r="2.6"/>
<circle cx="235.0" cy="42.2" r="2.6"/>
<circle cx="227.1" cy="59.3" r="2.6"/>
<circle cx="232.2" cy="47.2" r="2.6"/>
<circle cx="213.3" cy="54.4" r="2.6"/>
<circle cx="227.7" cy="38.4" r="2.6"/>
<circle cx="221.4" cy="45.3" r="2.6"/>
<circle cx="183.0" cy="45.3" r="2.6"/>
<circle cx="214.7" cy="42.6" r="2.6"/>
<circle cx="189.1" cy="43.4" r="2.6"/>
<circle cx="219.3" cy="48.0" r="2.6"/>
<circle cx="198.6" cy="53.4" r="2.6"/>
<circle cx="197.1" cy="44.7" r="2.6"/>
<circle cx="244.6" cy="40.0" r="2.6"/>
<circle cx="210.4" cy="57.8" r="2.6"/>
<circle cx="212.8" cy="44.0" r="2.6"/>
<circle cx="224.2" cy="57.6" r="2.6"/>
<circle cx="201.1" cy="36.1" r="2.6"/>
<circle cx="203.9" cy="38.6" r="2.6"/>
<circle cx="225.7" cy="38.1" r="2.6"/>
<circle cx="222.3" cy="51.0" r="2.6"/>
<circle cx="206.3" cy="48.3" r="2.6"/>
<circle cx="250.7" cy="50.2" r="2.6"/>
<circle cx="208.1" cy="46.3" r="2.6"/>
<circle cx="202.8" cy="49.7" r="2.6"/>
<circle cx="236.1" cy="38.8" r="2.6"/>
<circle cx="216.1" cy="58.1" r="2.6"/>
<circle cx="210.7" cy="48.9" r="2.6"/>
<circle cx="200.9" cy="38.8" r="2.6"/>
<circle cx="212.5" cy="41.8" r="2.6"/>
<circle cx="209.7" cy="45.4" r="2.6"/>
<circle cx="232.0" cy="48.9" r="2.6"/>
<circle cx="257.7" cy="49.1" r="2.6"/>
<circle cx="246.5" cy="49.7" r="2.6"/>
<circle cx="231.1" cy="32.9" r="2.6"/>
<circle cx="217.7" cy="46.3" r="2.6"/>
<circle cx="236.1" cy="43.2" r="2.6"/>
<circle cx="212.0" cy="44.5" r="2.6"/>
<circle cx="215.8" cy="51.0" r="2.6"/>
<circle cx="196.7" cy="37.9" r="2.6"/>
<circle cx="225.3" cy="48.4" r="2.6"/>
<circle cx="213.1" cy="41.4" r="2.6"/>
<circle cx="204.7" cy="46.4" r="2.6"/>
<circle cx="241.6" cy="36.6" r="2.6"/>
<circle cx="247.9" cy="55.3" r="2.6"/>
<circle cx="211.7" cy="54.7" r="2.6"/>
<circle cx="196.4" cy="43.0" r="2.6"/>
<circle cx="214.0" cy="42.0" r="2.6"/>
<circle cx="229.1" cy="33.1" r="2.6"/>
<circle cx="207.9" cy="43.0" r="2.6"/>
<circle cx="198.8" cy="33.6" r="2.6"/>
<circle cx="201.6" cy="46.9" r="2.6"/>
<circle cx="230.8" cy="52.5" r="2.6"/>
<circle cx="201.8" cy="39.2" r="2.6"/>
<circle cx="203.2" cy="51.4" r="2.6"/>
<circle cx="211.1" cy="39.3" r="2.6"/>
<circle cx="226.2" cy="57.1" r="2.6"/>
<circle cx="226.3" cy="57.3" r="2.6"/>
<circle cx="222.5" cy="59.1" r="2.6"/>
<circle cx="242.8" cy="46.0" r="2.6"/>
<circle cx="246.3" cy="48.6" r="2.6"/>
<circle cx="221.6" cy="38.0" r="2.6"/>
<circle cx="214.7" cy="54.6" r="2.6"/>
<circle cx="196.0" cy="53.4" r="2.6"/>
<circle cx="226.4" cy="49.7" r="2.6"/>
<circle cx="231.9" cy="39.5" r="2.6"/>
<circle cx="232.3" cy="40.5" r="2.6"/>
<circle cx="235.9" cy="28.9" r="2.6"/>
<circle cx="232.7" cy="44.7" r="2.6"/>
<circle cx="234.8" cy="37.9" r="2.6"/>
<circle cx="204.8" cy="40.1" r="2.6"/>
<circle cx="214.9" cy="37.0" r="2.6"/>
<circle cx="241.8" cy="63.9" r="2.6"/>
<circle cx="207.1" cy="30.1" r="2.6"/>
<circle cx="241.4" cy="57.9" r="2.6"/>
<circle cx="235.0" cy="58.3" r="2.6"/>
<circle cx="204.1" cy="45.3" r="2.6"/>
<circle cx="194.7" cy="33.1" r="2.6"/>
<circle cx="238.0" cy="40.4" r="2.6"/>
<circle cx="208.3" cy="54.8" r="2.6"/>
<circle cx="253.0" cy="51.8" r="2.6"/>
<circle cx="197.7" cy="50.6" r="2.6"/>
<circle cx="245.2" cy="42.2" r="2.6"/>
<circle cx="205.8" cy="57.0" r="2.6"/>
<circle cx="222.6" cy="36.2" r="2.6"/>
<circle cx="213.1" cy="39.6" r="2.6"/>
<circle cx="225.4" cy="48.1" r="2.6"/>
<circle cx="241.1" cy="54.0" r="2.6"/>
<circle cx="191.4" cy="51.0" r="2.6"/>
<circle cx="236.4" cy="51.5" r="2.6"/>
<circle cx="238.9" cy="41.6" r="2.6"/>
<circle cx="202.6" cy="56.1" r="2.6"/>
<circle cx="238.8" cy="39.9" r="2.6"/>
<circle cx="214.4" cy="33.3" r="2.6"/>
<circle cx="195.7" cy="35.7" r="2.6"/>
<circle cx="213.4" cy="50.6" r="2.6"/>
<circle cx="198.4" cy="36.6" r="2.6"/>
<circle cx="232.4" cy="46.3" r="2.6"/>
<circle cx="204.3" cy="49.4" r="2.6"/>
<circle cx="223.7" cy="60.8" r="2.6"/>
<circle cx="211.7" cy="56.9" r="2.6"/>
<circle cx="206.4" cy="58.0" r="2.6"/>
<circle cx="206.0" cy="43.5" r="2.6"/>
<circle cx="254.7" cy="50.1" r="2.6"/>
<circle cx="226.6" cy="39.0" r="2.6"/>
<circle cx="233.4" cy="35.4" r="2.6"/>
<circle cx="240.6" cy="58.8" r="2.6"/>
<circle cx="209.5" cy="40.8" r="2.6"/>
<circle cx="223.2" cy="47.1" r="2.6"/>
<circle cx="202.1" cy="52.6" r="2.6"/>
<circle cx="182.6" cy="42.8" r="2.6"/>
<circle cx="212.6" cy="44.3" r="2.6"/>
<circle cx="225.6" cy="35.0" r="2.6"/>
<circle cx="230.8" cy="45.2" r="2.6"/>
<circle cx="208.1" cy="33.6" r="2.6"/>
<circle cx="198.3" cy="50.5" r="2.6"/>
<circle cx="202.4" cy="47.6" r="2.6"/>
<circle cx="239.4" cy="57.1" r="2.6"/>
<circle cx="248.6" cy="44.1" r="2.6"/>
<circle cx="200.1" cy="57.0" r="2.6"/>
<circle cx="225.7" cy="58.0" r="2.6"/>
<circle cx="220.2" cy="58.7" r="2.6"/>
<circle cx="235.5" cy="54.0" r="2.6"/>
<circle cx="229.2" cy="50.9" r="2.6"/>
<circle cx="224.3" cy="49.2" r="2.6"/>
<circle cx="238.1" cy="42.0" r="2.6"/>
<circle cx="251.8" cy="46.0" r="2.6"/>
<circle cx="238.0" cy="46.1" r="2.6"/>
<circle cx="215.5" cy="66.9" r="2.6"/>
<circle cx="214.3" cy="34.5" r="2.6"/>
<circle cx="206.9" cy="43.9" r="2.6"/>
<circle cx="237.1" cy="37.2" r="2.6"/>
<circle cx="226.5" cy="53.6" r="2.6"/>
<circle cx="253.0" cy="40.2" r="2.6"/>
<circle cx="231.0" cy="50.0" r="2.6"/>
<circle cx="201.3" cy="46.8" r="2.6"/>
<circle cx="231.0" cy="52.3" r="2.6"/>
<circle cx="212.0" cy="33.9" r="2.6"/>
<circle cx="247.1" cy="49.6" r="2.6"/>
<circle cx="238.6" cy="60.8" r="2.6"/>
<circle cx="210.5" cy="55.0" r="2.6"/>
<circle cx="215.6" cy="46.4" r="2.6"/>
<circle cx="218.4" cy="47.0" r="2.6"/>
<circle cx="240.4" cy="48.2" r="2.6"/>
<circle cx="217.2" cy="44.3" r="2.6"/>
<circle cx="226.2" cy="38.2" r="2.6"/>
<circle cx="210.8" cy="46.5" r="2.6"/>
<circle cx="209.6" cy="45.8" r="2.6"/>
<circle cx="208.8" cy="66.6" r="2.6"/>
<circle cx="244.3" cy="51.4" r="2.6"/>
<circle cx="225.9" cy="46.1" r="2.6"/>
<circle cx="225.5" cy="50.0" r="2.6"/>
<circle cx="245.8" cy="46.8" r="2.6"/>
<circle cx="232.7" cy="37.2" r="2.6"/>
<circle cx="253.3" cy="43.8" r="2.6"/>
<circle cx="218.9" cy="56.1" r="2.6"/>
<circle cx="243.0" cy="36.1" r="2.6"/>
<circle cx="213.7" cy="33.3" r="2.6"/>
<circle cx="222.5" cy="46.0" r="2.6"/>
<circle cx="213.6" cy="40.3" r="2.6"/>
<circle cx="212.9" cy="39.7" r="2.6"/>
<circle cx="229.7" cy="61.9" r="2.6"/>
<circle cx="184.7" cy="45.9" r="2.6"/>
<circle cx="212.3" cy="51.8" r="2.6"/>
<circle cx="202.6" cy="45.6" r="2.6"/>
<circle cx="201.0" cy="53.8" r="2.6"/>
<circle cx="221.8" cy="45.4" r="2.6"/>
<circle cx="226.8" cy="44.6" r="2.6"/>
<circle cx="191.6" cy="52.8" r="2.6"/>
<circle cx="225.3" cy="45.5" r="2.6"/>
<circle cx="238.0" cy="58.9" r="2.6"/>
<circle cx="200.0" cy="39.3" r="2.6"/>
<circle cx="248.3" cy="60.9" r="2.6"/>
<circle cx="206.5" cy="35.4" r="2.6"/>
<circle cx="208.3" cy="42.1" r="2.6"/>
<circle cx="191.0" cy="47.3" r="2.6"/>
<circle cx="196.6" cy="35.1" r="2.6"/>
<circle cx="236.8" cy="40.3" r="2.6"/>
<circle cx="218.7" cy="53.2" r="2.6"/>
<circle cx="234.9" cy="43.7" r="2.6"/>
<circle cx="179.8" cy="57.4" r="2.6"/>
<circle cx="181.4" cy="46.5" r="2.6"/>
<circle cx="186.8" cy="38.8" r="2.6"/>
<circle cx="192.3" cy="34.5" r="2.6"/>
<circle cx="248.6" cy="30.7" r="2.6"/>
<circle cx="260.6" cy="39.5" r="2.6"/>
<circle cx="264.3" cy="51.5" r="2.6"/>
<circle cx="262.0" cy="45.4" r="2.6"/>
<circle cx="251.2" cy="66.1" r="2.6"/>
<circle cx="248.6" cy="70.5" r="2.6"/>
<circle cx="222.2" cy="70.0" r="2.6"/>
<circle cx="224.0" cy="67.0" r="2.6"/>
<circle cx="205.4" cy="68.3" r="2.6"/>
<circle cx="209.7" cy="67.8" r="2.6"/>
<circle cx="216.0" cy="23.5" r="2.6"/>
<circle cx="212.0" cy="26.0" r="2.6"/>
<circle cx="233.0" cy="24.0" r="2.6"/>
<circle cx="230.0" cy="27.5" r="2.6"/>
</g>
<g fill="#4db3ec" stroke="#1e4966" stroke-width="0.6">
<circle cx="61.1" cy="130.2" r="2.6"/>
<circle cx="110.9" cy="131.2" r="2.6"/>
<circle cx="97.4" cy="109.7" r="2.6"/>
<circle cx="100.7" cy="117.4" r="2.6"/>
<circle cx="72.0" cy="145.4" r="2.6"/>
<circle cx="81.9" cy="143.3" r="2.6"/>
<circle cx="98.3" cy="125.0" r="2.6"/>
<circle cx="93.5" cy="122.5" r="2.6"/>
<circle cx="93.0" cy="130.8" r="2.6"/>
<circle cx="90.6" cy="127.6" r="2.6"/>
<circle cx="86.6" cy="134.1" r="2.6"/>
<circle cx="86.2" cy="127.6" r="2.6"/>
<circle cx="82.6" cy="125.8" r="2.6"/>
<circle cx="81.1" cy="129.0" r="2.6"/>
<circle cx="81.1" cy="134.5" r="2.6"/>
<circle cx="76.8" cy="125.4" r="2.6"/>
<circle cx="75.3" cy="123.9" r="2.6"/>
<circle cx="76.8" cy="129.8" r="2.6"/>
<circle cx="73.1" cy="134.1" r="2.6"/>
<circle cx="76.0" cy="138.9" r="2.6"/>
<circle cx="69.5" cy="132.2" r="2.6"/>
<circle cx="66.9" cy="135.6" r="2.6"/>
<circle cx="65.9" cy="138.5" r="2.6"/>
<circle cx="70.2" cy="138.5" r="2.6"/>
<circle cx="65.9" cy="134.1" r="2.6"/>
<circle cx="73.1" cy="136.3" r="2.6"/>
<circle cx="78.2" cy="132.7" r="2.6"/>
<circle cx="84.0" cy="131.2" r="2.6"/>
<circle cx="88.4" cy="129.0" r="2.6"/>
<circle cx="71.0" cy="135.6" r="2.6"/>
<circle cx="68.1" cy="137.0" r="2.6"/>
<circle cx="74.6" cy="131.2" r="2.6"/>
<circle cx="78.9" cy="127.6" r="2.6"/>
<circle cx="72.4" cy="139.2" r="2.6"/>
<circle cx="68.8" cy="133.4" r="2.6"/>
<circle cx="63.7" cy="134.8" r="2.6"/>
</g>
<rect x="38.7" y="10.2" width="16.2" height="17" fill="#fff"/>
<text x="41.8" y="22.6" font-family="Liberation Serif, serif" font-size="12.5" fill="#222">a)</text>
<line x1="32.0" x2="32.0" y1="9.7" y2="163.5" stroke="#000" stroke-width="2.2"/>
<line x1="30.9" x2="377.6" y1="162.4" y2="162.4" stroke="#000" stroke-width="2.2"/>
<line x1="32.5" x2="36.5" y1="154.51" y2="154.51" stroke="#000" stroke-width="1.5"/>
<text x="27.1" y="157.61" text-anchor="end" font-family="Liberation Serif, serif" font-size="9.3" fill="#222">-10</text>
<line x1="32.5" x2="36.5" y1="137.53" y2="137.53" stroke="#000" stroke-width="1.5"/>
<text x="27.1" y="140.63" text-anchor="end" font-family="Liberation Serif, serif" font-size="9.3" fill="#222">-8</text>
<line x1="32.5" x2="36.5" y1="120.56" y2="120.56" stroke="#000" stroke-width="1.5"/>
<text x="27.1" y="123.66" text-anchor="end" font-family="Liberation Serif, serif" font-size="9.3" fill="#222">-6</text>
<line x1="32.5" x2="36.5" y1="103.58" y2="103.58" stroke="#000" stroke-width="1.5"/>
<text x="27.1" y="106.68" text-anchor="end" font-family="Liberation Serif, serif" font-size="9.3" fill="#222">-4</text>
<line x1="32.5" x2="36.5" y1="86.60" y2="86.60" stroke="#000" stroke-width="1.5"/>
<text x="27.1" y="89.70" text-anchor="end" font-family="Liberation Serif, serif" font-size="9.3" fill="#222">-2</text>
<line x1="32.5" x2="36.5" y1="69.62" y2="69.62" stroke="#000" stroke-width="1.5"/>
<text x="27.1" y="72.72" text-anchor="end" font-family="Liberation Serif, serif" font-size="9.3" fill="#222">0</text>
<line x1="32.5" x2="36.5" y1="52.64" y2="52.64" stroke="#000" stroke-width="1.5"/>
<text x="27.1" y="55.74" text-anchor="end" font-family="Liberation Serif, serif" font-size="9.3" fill="#222">2</text>
<line x1="32.5" x2="36.5" y1="35.67" y2="35.67" stroke="#000" stroke-width="1.5"/>
<text x="27.1" y="38.77" text-anchor="end" font-family="Liberation Serif, serif" font-size="9.3" fill="#222">4</text>
<line x1="32.5" x2="36.5" y1="18.69" y2="18.69" stroke="#000" stroke-width="1.5"/>
<text x="27.1" y="21.79" text-anchor="end" font-family="Liberation Serif, serif" font-size="9.3" fill="#222">6</text>
<line x1="32.5" x2="34.5" y1="163.00" y2="163.00" stroke="#000" stroke-width="1.2"/>
<line x1="32.5" x2="34.5" y1="146.02" y2="146.02" stroke="#000" stroke-width="1.2"/>
<line x1="32.5" x2="34.5" y1="129.04" y2="129.04" stroke="#000" stroke-width="1.2"/>
<line x1="32.5" x2="34.5" y1="112.07" y2="112.07" stroke="#000" stroke-width="1.2"/>
<line x1="32.5" x2="34.5" y1="95.09" y2="95.09" stroke="#000" stroke-width="1.2"/>
<line x1="32.5" x2="34.5" y1="78.11" y2="78.11" stroke="#000" stroke-width="1.2"/>
<line x1="32.5" x2="34.5" y1="61.13" y2="61.13" stroke="#000" stroke-width="1.2"/>
<line x1="32.5" x2="34.5" y1="44.16" y2="44.16" stroke="#000" stroke-width="1.2"/>
<line x1="32.5" x2="34.5" y1="27.18" y2="27.18" stroke="#000" stroke-width="1.2"/>
<line x1="32.5" x2="34.5" y1="10.20" y2="10.20" stroke="#000" stroke-width="1.2"/>
<line y1="163" y2="158.2" x1="32.50" x2="32.50" stroke="#000" stroke-width="1.5"/>
<text x="32.50" y="174.2" text-anchor="middle" font-family="Liberation Serif, serif" font-size="9.3" fill="#222">-15</text>
<line y1="163" y2="158.2" x1="101.30" x2="101.30" stroke="#000" stroke-width="1.5"/>
<text x="101.30" y="174.2" text-anchor="middle" font-family="Liberation Serif, serif" font-size="9.3" fill="#222">-10</text>
<line y1="163" y2="158.2" x1="170.10" x2="170.10" stroke="#000" stroke-width="1.5"/>
<text x="170.10" y="174.2" text-anchor="middle" font-family="Liberation Serif, serif" font-size="9.3" fill="#222">-5</text>
<line y1="163" y2="158.2" x1="238.90" x2="238.90" stroke="#000" stroke-width="1.5"/>
<text x="238.90" y="174.2" text-anchor="middle" font-family="Liberation Serif, serif" font-size="9.3" fill="#222">0</text>
<line y1="163" y2="158.2" x1="307.70" x2="307.70" stroke="#000" stroke-width="1.5"/>
<text x="307.70" y="174.2" text-anchor="middle" font-family="Liberation Serif, serif" font-size="9.3" fill="#222">5</text>
<line y1="163" y2="158.2" x1="376.50" x2="376.50" stroke="#000" stroke-width="1.5"/>
<text x="376.50" y="174.2" text-anchor="middle" font-family="Liberation Serif, serif" font-size="9.3" fill="#222">10</text>
<line y1="163" y2="160.0" x1="66.90" x2="66.90" stroke="#000" stroke-width="1.2"/>
<line y1="163" y2="160.0" x1="135.70" x2="135.70" stroke="#000" stroke-width="1.2"/>
<line y1="163" y2="160.0" x1="204.50" x2="204.50" stroke="#000" stroke-width="1.2"/>
<line y1="163" y2="160.0" x1="273.30" x2="273.30" stroke="#000" stroke-width="1.2"/>
<line y1="163" y2="160.0" x1="342.10" x2="342.10" stroke="#000" stroke-width="1.2"/>
<rect x="303" y="124.8" width="72.3" height="36.6" fill="#fff"/>
<circle cx="315.4" cy="130.80" r="4.75" fill="#eaa512" stroke="#463408" stroke-width="0.95"/>
<text transform="translate(328.60,134.10) scale(0.9826,1)" text-anchor="start" font-family="Liberation Serif, serif" font-size="9.2" fill="#222">Honey</text>
<circle cx="315.4" cy="142.95" r="4.75" fill="#e3238a" stroke="#4a0c2c" stroke-width="0.95"/>
<text transform="translate(328.60,146.25) scale(1.0040,1)" text-anchor="start" font-family="Liberation Serif, serif" font-size="9.2" fill="#222">Adulterated</text>
<circle cx="315.4" cy="155.10" r="4.75" fill="#4db3ec" stroke="#183a52" stroke-width="0.95"/>
<text transform="translate(328.60,158.40) scale(0.9387,1)" text-anchor="start" font-family="Liberation Serif, serif" font-size="9.2" fill="#222">Glucose</text>
<text transform="translate(204.50,182.60) scale(0.9891,1)" text-anchor="middle" font-family="Liberation Serif, serif" font-size="12.3" fill="#222">Canonical Variable 1 (63.03 %)</text>
<text transform="translate(14.30,86.60) rotate(-90) scale(0.9859,1)" text-anchor="middle" font-family="Liberation Serif, serif" font-size="12.3" fill="#222">Canonical Variable 2 (36.97 %)</text>
<rect x="32.5" y="198.9" width="342.8" height="152.1" fill="#e9e9f6"/>
<line x1="32.5" x2="375.3" y1="335.75" y2="335.75" stroke="#f1f1f9" stroke-width="0.8"/>
<line x1="32.5" x2="375.3" y1="305.25" y2="305.25" stroke="#f1f1f9" stroke-width="0.8"/>
<line x1="32.5" x2="375.3" y1="274.75" y2="274.75" stroke="#f1f1f9" stroke-width="0.8"/>
<line x1="32.5" x2="375.3" y1="244.25" y2="244.25" stroke="#f1f1f9" stroke-width="0.8"/>
<line x1="32.5" x2="375.3" y1="213.75" y2="213.75" stroke="#f1f1f9" stroke-width="0.8"/>
<line x1="32.5" x2="375.3" y1="351.00" y2="351.00" stroke="#f1f1f9" stroke-width="0.8"/>
<line x1="32.5" x2="375.3" y1="320.50" y2="320.50" stroke="#f1f1f9" stroke-width="0.8"/>
<line x1="32.5" x2="375.3" y1="290.00" y2="290.00" stroke="#f1f1f9" stroke-width="0.8"/>
<line x1="32.5" x2="375.3" y1="259.50" y2="259.50" stroke="#f1f1f9" stroke-width="0.8"/>
<line x1="32.5" x2="375.3" y1="229.00" y2="229.00" stroke="#f1f1f9" stroke-width="0.8"/>
<line x1="32.5" x2="375.3" y1="198.50" y2="198.50" stroke="#f1f1f9" stroke-width="0.8"/>
<line y1="198.5" y2="351" x1="32.50" x2="32.50" stroke="#d9d9e6" stroke-width="0.8"/>
<line y1="198.5" y2="351" x1="204.50" x2="204.50" stroke="#d9d9e6" stroke-width="0.8"/>
<line y1="198.5" y2="351" x1="376.50" x2="376.50" stroke="#d9d9e6" stroke-width="0.8"/>
<g fill="#eaa512" stroke="#5c440a" stroke-width="0.6">
<circle cx="211.2" cy="244.3" r="2.6"/>
<circle cx="199.2" cy="238.5" r="2.6"/>
<circle cx="239.5" cy="252.6" r="2.6"/>
<circle cx="234.8" cy="253.1" r="2.6"/>
<circle cx="234.1" cy="249.3" r="2.6"/>
<circle cx="214.6" cy="239.5" r="2.6"/>
<circle cx="224.1" cy="257.7" r="2.6"/>
<circle cx="245.3" cy="255.6" r="2.6"/>
<circle cx="215.6" cy="234.6" r="2.6"/>
<circle cx="222.7" cy="258.6" r="2.6"/>
<circle cx="229.2" cy="245.7" r="2.6"/>
<circle cx="215.4" cy="251.1" r="2.6"/>
<circle cx="228.6" cy="245.6" r="2.6"/>
<circle cx="226.3" cy="262.8" r="2.6"/>
<circle cx="223.0" cy="261.8" r="2.6"/>
<circle cx="240.5" cy="250.3" r="2.6"/>
<circle cx="236.0" cy="247.1" r="2.6"/>
<circle cx="214.6" cy="239.1" r="2.6"/>
<circle cx="213.7" cy="246.8" r="2.6"/>
<circle cx="225.2" cy="250.9" r="2.6"/>
<circle cx="228.9" cy="227.6" r="2.6"/>
<circle cx="227.1" cy="236.6" r="2.6"/>
<circle cx="226.3" cy="259.5" r="2.6"/>
<circle cx="203.7" cy="240.4" r="2.6"/>
<circle cx="224.0" cy="225.2" r="2.6"/>
<circle cx="233.1" cy="247.8" r="2.6"/>
<circle cx="218.6" cy="235.6" r="2.6"/>
<circle cx="202.5" cy="228.5" r="2.6"/>
<circle cx="220.4" cy="239.6" r="2.6"/>
<circle cx="224.0" cy="233.9" r="2.6"/>
<circle cx="231.8" cy="242.1" r="2.6"/>
<circle cx="208.0" cy="231.4" r="2.6"/>
<circle cx="220.2" cy="252.3" r="2.6"/>
<circle cx="231.1" cy="243.4" r="2.6"/>
<circle cx="225.2" cy="247.3" r="2.6"/>
<circle cx="250.5" cy="246.5" r="2.6"/>
<circle cx="230.8" cy="254.3" r="2.6"/>
<circle cx="213.1" cy="243.3" r="2.6"/>
<circle cx="227.0" cy="240.8" r="2.6"/>
<circle cx="232.1" cy="257.8" r="2.6"/>
<circle cx="239.1" cy="247.4" r="2.6"/>
<circle cx="211.2" cy="243.0" r="2.6"/>
<circle cx="236.1" cy="250.0" r="2.6"/>
<circle cx="233.2" cy="249.3" r="2.6"/>
<circle cx="234.4" cy="261.1" r="2.6"/>
<circle cx="222.2" cy="246.2" r="2.6"/>
<circle cx="224.3" cy="240.6" r="2.6"/>
<circle cx="224.8" cy="233.3" r="2.6"/>
<circle cx="234.3" cy="265.4" r="2.6"/>
<circle cx="246.3" cy="264.7" r="2.6"/>
<circle cx="212.9" cy="256.9" r="2.6"/>
<circle cx="216.1" cy="241.7" r="2.6"/>
<circle cx="248.1" cy="241.1" r="2.6"/>
<circle cx="235.5" cy="251.1" r="2.6"/>
<circle cx="223.1" cy="235.4" r="2.6"/>
<circle cx="230.3" cy="241.8" r="2.6"/>
<circle cx="238.1" cy="261.6" r="2.6"/>
<circle cx="207.8" cy="234.5" r="2.6"/>
<circle cx="221.0" cy="231.6" r="2.6"/>
<circle cx="211.0" cy="241.6" r="2.6"/>
<circle cx="222.4" cy="227.2" r="2.6"/>
<circle cx="218.3" cy="248.3" r="2.6"/>
<circle cx="209.9" cy="230.8" r="2.6"/>
<circle cx="244.8" cy="264.7" r="2.6"/>
<circle cx="204.7" cy="224.8" r="2.6"/>
<circle cx="229.7" cy="234.2" r="2.6"/>
<circle cx="221.8" cy="239.4" r="2.6"/>
<circle cx="237.7" cy="247.3" r="2.6"/>
<circle cx="203.6" cy="243.5" r="2.6"/>
<circle cx="233.8" cy="245.2" r="2.6"/>
<circle cx="220.9" cy="248.2" r="2.6"/>
<circle cx="240.1" cy="251.2" r="2.6"/>
<circle cx="231.7" cy="246.6" r="2.6"/>
<circle cx="220.2" cy="234.1" r="2.6"/>
<circle cx="228.2" cy="242.9" r="2.6"/>
<circle cx="222.0" cy="253.6" r="2.6"/>
<circle cx="231.1" cy="255.8" r="2.6"/>
<circle cx="205.3" cy="244.7" r="2.6"/>
<circle cx="217.6" cy="234.4" r="2.6"/>
<circle cx="214.3" cy="254.2" r="2.6"/>
<circle cx="235.3" cy="240.8" r="2.6"/>
<circle cx="210.8" cy="240.8" r="2.6"/>
<circle cx="219.3" cy="260.3" r="2.6"/>
<circle cx="221.8" cy="244.1" r="2.6"/>
<circle cx="226.7" cy="253.3" r="2.6"/>
<circle cx="250.9" cy="249.5" r="2.6"/>
<circle cx="218.2" cy="224.8" r="2.6"/>
<circle cx="228.0" cy="254.7" r="2.6"/>
<circle cx="221.7" cy="256.2" r="2.6"/>
<circle cx="225.4" cy="260.7" r="2.6"/>
<circle cx="229.2" cy="235.4" r="2.6"/>
<circle cx="217.0" cy="226.7" r="2.6"/>
<circle cx="203.3" cy="241.1" r="2.6"/>
<circle cx="235.9" cy="268.5" r="2.6"/>
<circle cx="224.3" cy="242.3" r="2.6"/>
<circle cx="211.1" cy="250.9" r="2.6"/>
<circle cx="229.9" cy="240.4" r="2.6"/>
<circle cx="233.6" cy="253.4" r="2.6"/>
<circle cx="201.6" cy="245.5" r="2.6"/>
<circle cx="226.7" cy="241.5" r="2.6"/>
<circle cx="219.8" cy="261.4" r="2.6"/>
<circle cx="210.6" cy="233.8" r="2.6"/>
<circle cx="236.3" cy="236.0" r="2.6"/>
<circle cx="216.0" cy="223.6" r="2.6"/>
<circle cx="248.2" cy="263.1" r="2.6"/>
<circle cx="230.7" cy="249.0" r="2.6"/>
<circle cx="219.8" cy="239.3" r="2.6"/>
<circle cx="232.7" cy="240.0" r="2.6"/>
<circle cx="240.3" cy="244.6" r="2.6"/>
<circle cx="214.1" cy="255.0" r="2.6"/>
<circle cx="223.2" cy="250.2" r="2.6"/>
<circle cx="231.8" cy="233.2" r="2.6"/>
<circle cx="238.5" cy="233.2" r="2.6"/>
<circle cx="201.7" cy="241.0" r="2.6"/>
<circle cx="230.3" cy="247.7" r="2.6"/>
<circle cx="209.8" cy="249.5" r="2.6"/>
<circle cx="206.7" cy="234.6" r="2.6"/>
<circle cx="215.1" cy="238.1" r="2.6"/>
<circle cx="235.7" cy="241.7" r="2.6"/>
<circle cx="232.1" cy="254.3" r="2.6"/>
<circle cx="203.6" cy="226.4" r="2.6"/>
<circle cx="220.2" cy="237.4" r="2.6"/>
<circle cx="228.8" cy="226.3" r="2.6"/>
<circle cx="234.0" cy="255.4" r="2.6"/>
<circle cx="222.9" cy="230.1" r="2.6"/>
<circle cx="210.0" cy="220.0" r="2.6"/>
<circle cx="224.0" cy="221.0" r="2.6"/>
<circle cx="239.0" cy="224.5" r="2.6"/>
<circle cx="254.8" cy="222.0" r="2.6"/>
<circle cx="232.0" cy="276.7" r="2.6"/>
<circle cx="237.0" cy="270.0" r="2.6"/>
<circle cx="245.0" cy="272.4" r="2.6"/>
<circle cx="252.4" cy="263.0" r="2.6"/>
<circle cx="259.6" cy="271.0" r="2.6"/>
<circle cx="265.5" cy="258.0" r="2.6"/>
<circle cx="262.0" cy="265.0" r="2.6"/>
<circle cx="256.0" cy="250.0" r="2.6"/>
<circle cx="309.6" cy="261.7" r="2.6"/>
<circle cx="319.1" cy="268.7" r="2.6"/>
<circle cx="321.9" cy="263.3" r="2.6"/>
<circle cx="292.2" cy="277.6" r="2.6"/>
<circle cx="283.8" cy="281.4" r="2.6"/>
<circle cx="288.8" cy="271.4" r="2.6"/>
<circle cx="293.9" cy="263.2" r="2.6"/>
<circle cx="312.5" cy="268.4" r="2.6"/>
<circle cx="303.0" cy="303.4" r="2.6"/>
<circle cx="309.6" cy="255.0" r="2.6"/>
<circle cx="325.3" cy="282.7" r="2.6"/>
<circle cx="330.3" cy="297.7" r="2.6"/>
<circle cx="293.5" cy="286.4" r="2.6"/>
<circle cx="328.9" cy="270.0" r="2.6"/>
<circle cx="299.7" cy="297.7" r="2.6"/>
<circle cx="279.1" cy="261.7" r="2.6"/>
<circle cx="314.4" cy="278.9" r="2.6"/>
<circle cx="310.2" cy="283.3" r="2.6"/>
<circle cx="287.2" cy="269.4" r="2.6"/>
<circle cx="307.3" cy="276.0" r="2.6"/>
<circle cx="304.3" cy="269.0" r="2.6"/>
<circle cx="293.0" cy="273.8" r="2.6"/>
<circle cx="304.1" cy="265.2" r="2.6"/>
<circle cx="308.0" cy="282.0" r="2.6"/>
<circle cx="313.5" cy="251.4" r="2.6"/>
<circle cx="307.2" cy="277.4" r="2.6"/>
<circle cx="301.5" cy="287.8" r="2.6"/>
<circle cx="322.7" cy="254.6" r="2.6"/>
<circle cx="314.9" cy="300.7" r="2.6"/>
<circle cx="336.0" cy="269.1" r="2.6"/>
<circle cx="324.8" cy="259.6" r="2.6"/>
<circle cx="284.9" cy="278.6" r="2.6"/>
<circle cx="313.7" cy="278.0" r="2.6"/>
<circle cx="309.1" cy="275.1" r="2.6"/>
<circle cx="300.8" cy="277.3" r="2.6"/>
<circle cx="323.7" cy="269.1" r="2.6"/>
<circle cx="323.3" cy="242.6" r="2.6"/>
<circle cx="296.1" cy="292.4" r="2.6"/>
<circle cx="339.4" cy="273.9" r="2.6"/>
<circle cx="307.7" cy="250.3" r="2.6"/>
<circle cx="315.7" cy="282.1" r="2.6"/>
<circle cx="284.3" cy="278.7" r="2.6"/>
<circle cx="317.8" cy="276.8" r="2.6"/>
<circle cx="290.3" cy="278.4" r="2.6"/>
<circle cx="284.0" cy="293.1" r="2.6"/>
<circle cx="311.8" cy="252.0" r="2.6"/>
<circle cx="332.4" cy="287.9" r="2.6"/>
<circle cx="292.4" cy="274.9" r="2.6"/>
<circle cx="326.5" cy="269.0" r="2.6"/>
<circle cx="309.2" cy="253.3" r="2.6"/>
<circle cx="315.1" cy="252.8" r="2.6"/>
<circle cx="293.0" cy="263.1" r="2.6"/>
<circle cx="288.6" cy="294.4" r="2.6"/>
<circle cx="286.9" cy="258.3" r="2.6"/>
<circle cx="304.1" cy="270.1" r="2.6"/>
<circle cx="323.0" cy="282.7" r="2.6"/>
<circle cx="304.4" cy="264.0" r="2.6"/>
<circle cx="310.1" cy="282.7" r="2.6"/>
<circle cx="321.4" cy="262.0" r="2.6"/>
<circle cx="325.7" cy="274.1" r="2.6"/>
<circle cx="315.3" cy="261.9" r="2.6"/>
<circle cx="292.5" cy="264.8" r="2.6"/>
<circle cx="305.7" cy="260.3" r="2.6"/>
<circle cx="284.7" cy="265.2" r="2.6"/>
<circle cx="319.3" cy="262.3" r="2.6"/>
<circle cx="309.9" cy="237.9" r="2.6"/>
<circle cx="306.0" cy="268.1" r="2.6"/>
<circle cx="288.7" cy="243.2" r="2.6"/>
<circle cx="316.5" cy="257.5" r="2.6"/>
<circle cx="317.8" cy="263.5" r="2.6"/>
<circle cx="320.1" cy="264.7" r="2.6"/>
<circle cx="283.9" cy="268.7" r="2.6"/>
<circle cx="303.9" cy="280.2" r="2.6"/>
<circle cx="301.8" cy="263.9" r="2.6"/>
<circle cx="324.1" cy="288.1" r="2.6"/>
<circle cx="322.4" cy="286.1" r="2.6"/>
<circle cx="317.2" cy="281.9" r="2.6"/>
<circle cx="324.4" cy="276.3" r="2.6"/>
<circle cx="310.6" cy="272.2" r="2.6"/>
<circle cx="305.5" cy="264.4" r="2.6"/>
<circle cx="308.9" cy="273.8" r="2.6"/>
<circle cx="314.5" cy="245.1" r="2.6"/>
<circle cx="313.9" cy="272.2" r="2.6"/>
<circle cx="329.1" cy="295.9" r="2.6"/>
<circle cx="315.8" cy="261.4" r="2.6"/>
<circle cx="289.5" cy="257.7" r="2.6"/>
<circle cx="310.2" cy="237.9" r="2.6"/>
<circle cx="310.8" cy="269.8" r="2.6"/>
<circle cx="320.5" cy="264.8" r="2.6"/>
<circle cx="311.2" cy="258.6" r="2.6"/>
<circle cx="301.6" cy="242.5" r="2.6"/>
<circle cx="311.6" cy="294.0" r="2.6"/>
<circle cx="312.3" cy="275.7" r="2.6"/>
<circle cx="292.8" cy="292.2" r="2.6"/>
<circle cx="296.5" cy="282.4" r="2.6"/>
<circle cx="311.3" cy="255.1" r="2.6"/>
<circle cx="327.0" cy="270.2" r="2.6"/>
<circle cx="312.5" cy="277.0" r="2.6"/>
<circle cx="309.1" cy="264.1" r="2.6"/>
<circle cx="317.4" cy="263.7" r="2.6"/>
<circle cx="310.6" cy="259.7" r="2.6"/>
<circle cx="284.2" cy="259.6" r="2.6"/>
<circle cx="301.1" cy="270.2" r="2.6"/>
<circle cx="329.6" cy="243.8" r="2.6"/>
<circle cx="311.7" cy="235.7" r="2.6"/>
<circle cx="291.7" cy="262.1" r="2.6"/>
<circle cx="312.1" cy="271.2" r="2.6"/>
<circle cx="307.6" cy="257.5" r="2.6"/>
<circle cx="346.1" cy="267.5" r="2.6"/>
<circle cx="294.8" cy="296.0" r="2.6"/>
<circle cx="319.9" cy="264.3" r="2.6"/>
<circle cx="329.8" cy="272.4" r="2.6"/>
<circle cx="320.4" cy="273.6" r="2.6"/>
<circle cx="292.0" cy="285.1" r="2.6"/>
<circle cx="312.2" cy="254.4" r="2.6"/>
<circle cx="296.5" cy="284.8" r="2.6"/>
<circle cx="303.2" cy="270.7" r="2.6"/>
<circle cx="320.6" cy="272.0" r="2.6"/>
<circle cx="283.5" cy="279.9" r="2.6"/>
<circle cx="325.5" cy="283.4" r="2.6"/>
<circle cx="337.0" cy="275.6" r="2.6"/>
<circle cx="322.7" cy="294.6" r="2.6"/>
<circle cx="304.6" cy="296.9" r="2.6"/>
<circle cx="339.0" cy="282.1" r="2.6"/>
<circle cx="340.8" cy="283.2" r="2.6"/>
<circle cx="294.5" cy="287.6" r="2.6"/>
<circle cx="315.0" cy="276.4" r="2.6"/>
<circle cx="312.1" cy="291.1" r="2.6"/>
<circle cx="318.9" cy="259.2" r="2.6"/>
<circle cx="317.8" cy="281.3" r="2.6"/>
<circle cx="297.2" cy="263.3" r="2.6"/>
<circle cx="303.0" cy="260.6" r="2.6"/>
<circle cx="315.4" cy="285.8" r="2.6"/>
<circle cx="341.7" cy="288.5" r="2.6"/>
<circle cx="326.9" cy="287.7" r="2.6"/>
<circle cx="332.2" cy="264.2" r="2.6"/>
<circle cx="321.3" cy="275.0" r="2.6"/>
<circle cx="307.3" cy="262.9" r="2.6"/>
<circle cx="300.9" cy="265.8" r="2.6"/>
<circle cx="288.5" cy="278.1" r="2.6"/>
<circle cx="309.1" cy="271.6" r="2.6"/>
<circle cx="315.3" cy="281.2" r="2.6"/>
<circle cx="299.4" cy="268.4" r="2.6"/>
<circle cx="278.5" cy="277.3" r="2.6"/>
<circle cx="334.6" cy="262.9" r="2.6"/>
<circle cx="320.1" cy="258.7" r="2.6"/>
<circle cx="318.4" cy="263.2" r="2.6"/>
<circle cx="287.4" cy="250.3" r="2.6"/>
<circle cx="309.2" cy="259.8" r="2.6"/>
<circle cx="312.0" cy="266.4" r="2.6"/>
<circle cx="302.7" cy="251.4" r="2.6"/>
<circle cx="285.7" cy="258.6" r="2.6"/>
<circle cx="314.7" cy="302.4" r="2.6"/>
<circle cx="327.6" cy="298.5" r="2.6"/>
<circle cx="318.0" cy="268.9" r="2.6"/>
<circle cx="287.2" cy="270.3" r="2.6"/>
<circle cx="273.3" cy="265.6" r="2.6"/>
<circle cx="337.5" cy="275.4" r="2.6"/>
<circle cx="329.0" cy="264.4" r="2.6"/>
<circle cx="286.4" cy="262.9" r="2.6"/>
<circle cx="303.1" cy="289.0" r="2.6"/>
<circle cx="343.4" cy="258.9" r="2.6"/>
<circle cx="303.8" cy="268.1" r="2.6"/>
<circle cx="304.0" cy="251.1" r="2.6"/>
<circle cx="311.5" cy="276.0" r="2.6"/>
<circle cx="316.5" cy="251.7" r="2.6"/>
<circle cx="308.0" cy="243.4" r="2.6"/>
<circle cx="325.5" cy="254.6" r="2.6"/>
<circle cx="305.3" cy="263.5" r="2.6"/>
<circle cx="300.0" cy="254.0" r="2.6"/>
<circle cx="314.3" cy="274.6" r="2.6"/>
<circle cx="345.7" cy="268.9" r="2.6"/>
<circle cx="319.4" cy="270.8" r="2.6"/>
<circle cx="330.2" cy="278.3" r="2.6"/>
<circle cx="315.4" cy="266.5" r="2.6"/>
<circle cx="314.8" cy="288.5" r="2.6"/>
<circle cx="274.7" cy="268.5" r="2.6"/>
<circle cx="302.9" cy="265.8" r="2.6"/>
<circle cx="276.5" cy="281.8" r="2.6"/>
<circle cx="295.7" cy="267.0" r="2.6"/>
<circle cx="301.5" cy="244.6" r="2.6"/>
<circle cx="302.5" cy="242.0" r="2.6"/>
<circle cx="294.0" cy="265.6" r="2.6"/>
<circle cx="310.0" cy="271.4" r="2.6"/>
<circle cx="307.7" cy="303.6" r="2.6"/>
<circle cx="317.5" cy="251.6" r="2.6"/>
<circle cx="299.7" cy="260.3" r="2.6"/>
<circle cx="307.0" cy="261.2" r="2.6"/>
<circle cx="295.5" cy="296.1" r="2.6"/>
<circle cx="310.8" cy="265.3" r="2.6"/>
<circle cx="305.8" cy="267.2" r="2.6"/>
<circle cx="333.7" cy="277.9" r="2.6"/>
<circle cx="315.6" cy="286.9" r="2.6"/>
<circle cx="343.6" cy="271.0" r="2.6"/>
<circle cx="280.9" cy="279.7" r="2.6"/>
<circle cx="299.9" cy="242.8" r="2.6"/>
<circle cx="299.6" cy="286.9" r="2.6"/>
<circle cx="330.5" cy="281.7" r="2.6"/>
<circle cx="290.2" cy="269.4" r="2.6"/>
<circle cx="285.6" cy="291.0" r="2.6"/>
<circle cx="317.7" cy="284.3" r="2.6"/>
<circle cx="311.7" cy="269.5" r="2.6"/>
<circle cx="313.1" cy="241.3" r="2.6"/>
<circle cx="327.1" cy="284.8" r="2.6"/>
<circle cx="303.5" cy="270.4" r="2.6"/>
<circle cx="315.3" cy="295.0" r="2.6"/>
<circle cx="317.5" cy="271.3" r="2.6"/>
<circle cx="301.5" cy="247.3" r="2.6"/>
<circle cx="300.1" cy="271.8" r="2.6"/>
<circle cx="305.9" cy="271.8" r="2.6"/>
<circle cx="322.9" cy="277.4" r="2.6"/>
<circle cx="314.9" cy="280.9" r="2.6"/>
<circle cx="313.4" cy="270.2" r="2.6"/>
<circle cx="318.3" cy="243.9" r="2.6"/>
<circle cx="331.6" cy="250.7" r="2.6"/>
<circle cx="324.5" cy="270.9" r="2.6"/>
<circle cx="329.1" cy="271.3" r="2.6"/>
<circle cx="294.3" cy="287.4" r="2.6"/>
<circle cx="313.5" cy="272.6" r="2.6"/>
<circle cx="311.7" cy="286.3" r="2.6"/>
<circle cx="324.3" cy="274.3" r="2.6"/>
<circle cx="284.0" cy="264.5" r="2.6"/>
<circle cx="312.2" cy="298.6" r="2.6"/>
<circle cx="316.9" cy="269.4" r="2.6"/>
<circle cx="330.7" cy="269.1" r="2.6"/>
<circle cx="309.9" cy="273.3" r="2.6"/>
<circle cx="284.9" cy="285.7" r="2.6"/>
<circle cx="317.7" cy="266.5" r="2.6"/>
<circle cx="291.0" cy="274.2" r="2.6"/>
<circle cx="334.2" cy="260.9" r="2.6"/>
<circle cx="292.4" cy="277.4" r="2.6"/>
<circle cx="302.9" cy="260.2" r="2.6"/>
<circle cx="305.7" cy="262.3" r="2.6"/>
<circle cx="316.1" cy="267.5" r="2.6"/>
<circle cx="300.3" cy="263.8" r="2.6"/>
<circle cx="321.2" cy="285.7" r="2.6"/>
<circle cx="325.9" cy="281.7" r="2.6"/>
<circle cx="305.1" cy="274.1" r="2.6"/>
<circle cx="283.0" cy="293.0" r="2.6"/>
<circle cx="315.7" cy="261.3" r="2.6"/>
<circle cx="313.3" cy="265.6" r="2.6"/>
<circle cx="297.6" cy="278.8" r="2.6"/>
<circle cx="302.8" cy="249.0" r="2.6"/>
<circle cx="299.7" cy="269.2" r="2.6"/>
<circle cx="292.2" cy="290.5" r="2.6"/>
<circle cx="292.0" cy="298.2" r="2.6"/>
<circle cx="325.8" cy="256.4" r="2.6"/>
<circle cx="312.8" cy="289.3" r="2.6"/>
<circle cx="307.3" cy="252.5" r="2.6"/>
<circle cx="312.5" cy="301.8" r="2.6"/>
<circle cx="285.3" cy="279.6" r="2.6"/>
<circle cx="310.8" cy="269.2" r="2.6"/>
<circle cx="304.0" cy="266.1" r="2.6"/>
<circle cx="328.3" cy="280.3" r="2.6"/>
<circle cx="293.7" cy="295.2" r="2.6"/>
<circle cx="288.6" cy="281.3" r="2.6"/>
<circle cx="313.8" cy="289.6" r="2.6"/>
<circle cx="316.7" cy="287.4" r="2.6"/>
<circle cx="310.3" cy="286.2" r="2.6"/>
<circle cx="298.9" cy="289.6" r="2.6"/>
<circle cx="318.6" cy="273.8" r="2.6"/>
<circle cx="301.1" cy="278.1" r="2.6"/>
<circle cx="285.7" cy="249.9" r="2.6"/>
<circle cx="322.8" cy="247.0" r="2.6"/>
<circle cx="335.2" cy="266.9" r="2.6"/>
<circle cx="315.0" cy="272.3" r="2.6"/>
<circle cx="317.9" cy="266.8" r="2.6"/>
<circle cx="304.5" cy="269.2" r="2.6"/>
<circle cx="328.6" cy="288.7" r="2.6"/>
<circle cx="332.4" cy="276.8" r="2.6"/>
<circle cx="307.4" cy="245.1" r="2.6"/>
<circle cx="321.7" cy="284.2" r="2.6"/>
<circle cx="303.9" cy="283.7" r="2.6"/>
<circle cx="332.7" cy="272.6" r="2.6"/>
<circle cx="328.8" cy="276.0" r="2.6"/>
<circle cx="281.3" cy="263.9" r="2.6"/>
<circle cx="303.8" cy="279.4" r="2.6"/>
<circle cx="296.1" cy="264.4" r="2.6"/>
<circle cx="294.4" cy="270.6" r="2.6"/>
<circle cx="312.0" cy="286.3" r="2.6"/>
<circle cx="324.4" cy="273.7" r="2.6"/>
<circle cx="314.9" cy="272.9" r="2.6"/>
<circle cx="312.7" cy="295.2" r="2.6"/>
<circle cx="316.1" cy="288.7" r="2.6"/>
<circle cx="292.2" cy="276.6" r="2.6"/>
<circle cx="325.5" cy="264.3" r="2.6"/>
<circle cx="278.4" cy="265.6" r="2.6"/>
<circle cx="290.4" cy="281.3" r="2.6"/>
<circle cx="296.3" cy="298.8" r="2.6"/>
<circle cx="313.2" cy="258.7" r="2.6"/>
<circle cx="302.2" cy="254.3" r="2.6"/>
<circle cx="317.4" cy="294.3" r="2.6"/>
<circle cx="307.1" cy="285.5" r="2.6"/>
<circle cx="294.8" cy="276.0" r="2.6"/>
<circle cx="331.8" cy="289.4" r="2.6"/>
<circle cx="294.2" cy="286.2" r="2.6"/>
<circle cx="303.5" cy="268.6" r="2.6"/>
<circle cx="322.8" cy="273.0" r="2.6"/>
<circle cx="314.6" cy="266.2" r="2.6"/>
<circle cx="329.9" cy="259.1" r="2.6"/>
<circle cx="339.3" cy="265.9" r="2.6"/>
<circle cx="297.2" cy="281.2" r="2.6"/>
<circle cx="318.5" cy="240.5" r="2.6"/>
<circle cx="314.5" cy="250.2" r="2.6"/>
<circle cx="296.7" cy="283.4" r="2.6"/>
<circle cx="296.1" cy="276.7" r="2.6"/>
<circle cx="304.3" cy="301.1" r="2.6"/>
<circle cx="309.1" cy="252.9" r="2.6"/>
<circle cx="292.0" cy="257.1" r="2.6"/>
<circle cx="312.9" cy="271.0" r="2.6"/>
<circle cx="327.2" cy="273.7" r="2.6"/>
<circle cx="312.9" cy="276.1" r="2.6"/>
<circle cx="308.5" cy="275.6" r="2.6"/>
<circle cx="324.0" cy="283.2" r="2.6"/>
<circle cx="301.4" cy="243.6" r="2.6"/>
<circle cx="296.9" cy="275.4" r="2.6"/>
<circle cx="318.2" cy="262.2" r="2.6"/>
<circle cx="291.6" cy="298.2" r="2.6"/>
<circle cx="334.1" cy="267.0" r="2.6"/>
<circle cx="333.0" cy="291.1" r="2.6"/>
<circle cx="294.6" cy="266.8" r="2.6"/>
<circle cx="291.9" cy="272.1" r="2.6"/>
<circle cx="288.1" cy="270.8" r="2.6"/>
<circle cx="328.9" cy="274.2" r="2.6"/>
<circle cx="306.0" cy="294.8" r="2.6"/>
<circle cx="295.2" cy="285.8" r="2.6"/>
<circle cx="305.3" cy="274.2" r="2.6"/>
<circle cx="310.9" cy="272.8" r="2.6"/>
<circle cx="309.5" cy="258.7" r="2.6"/>
<circle cx="300.7" cy="277.6" r="2.6"/>
<circle cx="308.5" cy="252.7" r="2.6"/>
<circle cx="298.3" cy="260.0" r="2.6"/>
<circle cx="309.4" cy="273.5" r="2.6"/>
<circle cx="311.8" cy="260.6" r="2.6"/>
<circle cx="310.5" cy="249.5" r="2.6"/>
<circle cx="282.1" cy="255.9" r="2.6"/>
<circle cx="289.7" cy="280.3" r="2.6"/>
<circle cx="289.6" cy="274.8" r="2.6"/>
<circle cx="301.8" cy="251.3" r="2.6"/>
<circle cx="283.3" cy="277.6" r="2.6"/>
<circle cx="316.6" cy="282.4" r="2.6"/>
<circle cx="341.1" cy="274.6" r="2.6"/>
<circle cx="314.7" cy="268.5" r="2.6"/>
<circle cx="311.7" cy="264.9" r="2.6"/>
<circle cx="294.7" cy="301.2" r="2.6"/>
<circle cx="278.2" cy="274.2" r="2.6"/>
<circle cx="317.3" cy="272.6" r="2.6"/>
<circle cx="293.4" cy="267.3" r="2.6"/>
<circle cx="301.9" cy="253.5" r="2.6"/>
<circle cx="308.9" cy="263.8" r="2.6"/>
<circle cx="300.3" cy="280.7" r="2.6"/>
<circle cx="291.6" cy="276.9" r="2.6"/>
<circle cx="299.2" cy="276.7" r="2.6"/>
<circle cx="310.7" cy="273.8" r="2.6"/>
<circle cx="292.9" cy="258.0" r="2.6"/>
<circle cx="294.9" cy="272.7" r="2.6"/>
<circle cx="322.1" cy="286.7" r="2.6"/>
<circle cx="300.9" cy="271.2" r="2.6"/>
<circle cx="294.7" cy="259.6" r="2.6"/>
<circle cx="318.4" cy="257.4" r="2.6"/>
<circle cx="312.2" cy="264.9" r="2.6"/>
<circle cx="320.7" cy="258.0" r="2.6"/>
<circle cx="336.1" cy="245.9" r="2.6"/>
<circle cx="287.0" cy="267.6" r="2.6"/>
<circle cx="296.2" cy="291.5" r="2.6"/>
<circle cx="282.0" cy="258.3" r="2.6"/>
<circle cx="313.1" cy="278.3" r="2.6"/>
<circle cx="326.0" cy="274.9" r="2.6"/>
<circle cx="346.4" cy="262.2" r="2.6"/>
<circle cx="312.0" cy="282.8" r="2.6"/>
<circle cx="303.6" cy="265.0" r="2.6"/>
<circle cx="301.1" cy="259.5" r="2.6"/>
<circle cx="289.8" cy="260.9" r="2.6"/>
<circle cx="282.6" cy="275.3" r="2.6"/>
<circle cx="337.6" cy="286.5" r="2.6"/>
<circle cx="305.2" cy="260.3" r="2.6"/>
<circle cx="329.5" cy="272.1" r="2.6"/>
<circle cx="318.2" cy="258.2" r="2.6"/>
<circle cx="326.8" cy="257.0" r="2.6"/>
<circle cx="310.5" cy="242.6" r="2.6"/>
<circle cx="316.5" cy="223.7" r="2.6"/>
<circle cx="345.0" cy="235.0" r="2.6"/>
<circle cx="288.0" cy="320.8" r="2.6"/>
<circle cx="295.4" cy="319.5" r="2.6"/>
<circle cx="270.0" cy="262.0" r="2.6"/>
<circle cx="272.0" cy="250.0" r="2.6"/>
<circle cx="276.0" cy="288.0" r="2.6"/>
<circle cx="263.0" cy="266.0" r="2.6"/>
</g>
<g fill="#e3238a" stroke="#611039" stroke-width="0.6">
<circle cx="175.7" cy="253.6" r="2.6"/>
<circle cx="186.0" cy="238.2" r="2.6"/>
<circle cx="108.8" cy="270.1" r="2.6"/>
<circle cx="139.4" cy="242.7" r="2.6"/>
<circle cx="150.9" cy="238.0" r="2.6"/>
<circle cx="145.4" cy="262.9" r="2.6"/>
<circle cx="208.9" cy="253.6" r="2.6"/>
<circle cx="101.5" cy="271.4" r="2.6"/>
<circle cx="126.1" cy="265.7" r="2.6"/>
<circle cx="110.2" cy="267.5" r="2.6"/>
<circle cx="184.4" cy="229.5" r="2.6"/>
<circle cx="189.1" cy="236.9" r="2.6"/>
<circle cx="113.8" cy="278.7" r="2.6"/>
<circle cx="146.8" cy="254.1" r="2.6"/>
<circle cx="192.6" cy="234.3" r="2.6"/>
<circle cx="179.4" cy="233.5" r="2.6"/>
<circle cx="199.4" cy="256.4" r="2.6"/>
<circle cx="115.3" cy="259.3" r="2.6"/>
<circle cx="181.0" cy="232.5" r="2.6"/>
<circle cx="206.7" cy="247.0" r="2.6"/>
<circle cx="193.8" cy="233.1" r="2.6"/>
<circle cx="184.4" cy="274.0" r="2.6"/>
<circle cx="164.7" cy="242.8" r="2.6"/>
<circle cx="179.8" cy="245.6" r="2.6"/>
<circle cx="188.8" cy="232.6" r="2.6"/>
<circle cx="196.2" cy="233.4" r="2.6"/>
<circle cx="191.7" cy="259.3" r="2.6"/>
<circle cx="206.3" cy="226.0" r="2.6"/>
<circle cx="117.4" cy="280.2" r="2.6"/>
<circle cx="110.3" cy="285.5" r="2.6"/>
<circle cx="217.5" cy="253.1" r="2.6"/>
<circle cx="189.6" cy="245.3" r="2.6"/>
<circle cx="215.2" cy="234.0" r="2.6"/>
<circle cx="122.7" cy="251.6" r="2.6"/>
<circle cx="130.3" cy="255.2" r="2.6"/>
<circle cx="176.8" cy="253.4" r="2.6"/>
<circle cx="120.9" cy="255.5" r="2.6"/>
<circle cx="128.1" cy="258.7" r="2.6"/>
<circle cx="144.5" cy="242.3" r="2.6"/>
<circle cx="200.8" cy="230.9" r="2.6"/>
<circle cx="185.2" cy="245.8" r="2.6"/>
<circle cx="172.8" cy="231.9" r="2.6"/>
<circle cx="182.2" cy="273.0" r="2.6"/>
<circle cx="112.6" cy="260.7" r="2.6"/>
<circle cx="197.6" cy="251.7" r="2.6"/>
<circle cx="187.6" cy="219.5" r="2.6"/>
<circle cx="184.8" cy="258.1" r="2.6"/>
<circle cx="108.3" cy="272.0" r="2.6"/>
<circle cx="132.9" cy="247.1" r="2.6"/>
<circle cx="195.5" cy="223.7" r="2.6"/>
<circle cx="162.7" cy="250.8" r="2.6"/>
<circle cx="187.0" cy="239.5" r="2.6"/>
<circle cx="226.0" cy="235.5" r="2.6"/>
<circle cx="153.7" cy="235.5" r="2.6"/>
<circle cx="127.5" cy="279.5" r="2.6"/>
<circle cx="182.9" cy="233.3" r="2.6"/>
<circle cx="109.1" cy="264.7" r="2.6"/>
<circle cx="152.5" cy="251.6" r="2.6"/>
<circle cx="205.6" cy="247.8" r="2.6"/>
<circle cx="118.5" cy="269.3" r="2.6"/>
<circle cx="191.3" cy="261.6" r="2.6"/>
<circle cx="104.6" cy="267.8" r="2.6"/>
<circle cx="102.2" cy="260.0" r="2.6"/>
<circle cx="197.4" cy="244.2" r="2.6"/>
<circle cx="147.5" cy="253.3" r="2.6"/>
<circle cx="187.1" cy="242.2" r="2.6"/>
<circle cx="156.2" cy="274.8" r="2.6"/>
<circle cx="137.2" cy="234.4" r="2.6"/>
<circle cx="158.6" cy="244.6" r="2.6"/>
<circle cx="188.8" cy="225.7" r="2.6"/>
<circle cx="159.9" cy="272.4" r="2.6"/>
<circle cx="152.0" cy="266.2" r="2.6"/>
<circle cx="208.8" cy="263.5" r="2.6"/>
<circle cx="148.2" cy="235.8" r="2.6"/>
<circle cx="133.5" cy="256.0" r="2.6"/>
<circle cx="121.5" cy="245.5" r="2.6"/>
<circle cx="151.8" cy="272.1" r="2.6"/>
<circle cx="200.3" cy="248.7" r="2.6"/>
<circle cx="186.5" cy="233.0" r="2.6"/>
<circle cx="127.0" cy="271.1" r="2.6"/>
<circle cx="208.9" cy="264.4" r="2.6"/>
<circle cx="203.2" cy="231.3" r="2.6"/>
<circle cx="119.7" cy="243.0" r="2.6"/>
<circle cx="133.7" cy="248.2" r="2.6"/>
<circle cx="165.2" cy="241.8" r="2.6"/>
<circle cx="203.1" cy="232.6" r="2.6"/>
<circle cx="177.2" cy="260.6" r="2.6"/>
<circle cx="127.7" cy="264.2" r="2.6"/>
<circle cx="149.8" cy="268.9" r="2.6"/>
<circle cx="178.3" cy="233.2" r="2.6"/>
<circle cx="204.4" cy="232.1" r="2.6"/>
<circle cx="156.3" cy="237.8" r="2.6"/>
<circle cx="132.8" cy="254.2" r="2.6"/>
<circle cx="196.6" cy="235.2" r="2.6"/>
<circle cx="216.8" cy="261.1" r="2.6"/>
<circle cx="180.1" cy="232.4" r="2.6"/>
<circle cx="185.1" cy="248.4" r="2.6"/>
<circle cx="206.6" cy="256.8" r="2.6"/>
<circle cx="166.0" cy="266.4" r="2.6"/>
<circle cx="157.1" cy="233.3" r="2.6"/>
<circle cx="179.3" cy="230.1" r="2.6"/>
<circle cx="153.3" cy="256.0" r="2.6"/>
<circle cx="197.6" cy="249.3" r="2.6"/>
<circle cx="122.0" cy="262.3" r="2.6"/>
<circle cx="158.3" cy="264.6" r="2.6"/>
<circle cx="152.6" cy="265.0" r="2.6"/>
<circle cx="170.1" cy="228.7" r="2.6"/>
<circle cx="134.1" cy="278.1" r="2.6"/>
<circle cx="150.9" cy="235.2" r="2.6"/>
<circle cx="185.8" cy="252.5" r="2.6"/>
<circle cx="179.8" cy="271.5" r="2.6"/>
<circle cx="107.6" cy="266.1" r="2.6"/>
<circle cx="152.1" cy="234.3" r="2.6"/>
<circle cx="130.9" cy="286.5" r="2.6"/>
<circle cx="213.3" cy="248.1" r="2.6"/>
<circle cx="177.1" cy="264.5" r="2.6"/>
<circle cx="181.9" cy="260.2" r="2.6"/>
<circle cx="162.5" cy="260.2" r="2.6"/>
<circle cx="140.5" cy="262.1" r="2.6"/>
<circle cx="160.2" cy="236.7" r="2.6"/>
<circle cx="160.5" cy="227.2" r="2.6"/>
<circle cx="141.4" cy="257.7" r="2.6"/>
<circle cx="139.5" cy="278.6" r="2.6"/>
<circle cx="176.3" cy="252.2" r="2.6"/>
<circle cx="158.2" cy="274.0" r="2.6"/>
<circle cx="204.3" cy="251.0" r="2.6"/>
<circle cx="174.3" cy="269.1" r="2.6"/>
<circle cx="143.1" cy="258.1" r="2.6"/>
<circle cx="108.1" cy="258.7" r="2.6"/>
<circle cx="183.7" cy="258.5" r="2.6"/>
<circle cx="184.5" cy="223.1" r="2.6"/>
<circle cx="126.3" cy="264.3" r="2.6"/>
<circle cx="132.6" cy="270.1" r="2.6"/>
<circle cx="156.4" cy="256.4" r="2.6"/>
<circle cx="184.7" cy="257.9" r="2.6"/>
<circle cx="207.7" cy="230.2" r="2.6"/>
<circle cx="191.3" cy="237.0" r="2.6"/>
<circle cx="206.6" cy="238.5" r="2.6"/>
<circle cx="126.5" cy="244.2" r="2.6"/>
<circle cx="106.1" cy="252.1" r="2.6"/>
<circle cx="188.0" cy="249.9" r="2.6"/>
<circle cx="129.4" cy="268.3" r="2.6"/>
<circle cx="140.0" cy="260.7" r="2.6"/>
<circle cx="168.4" cy="250.5" r="2.6"/>
<circle cx="162.2" cy="232.8" r="2.6"/>
<circle cx="122.5" cy="258.5" r="2.6"/>
<circle cx="173.6" cy="255.8" r="2.6"/>
<circle cx="161.3" cy="233.8" r="2.6"/>
<circle cx="177.7" cy="241.9" r="2.6"/>
<circle cx="179.3" cy="242.0" r="2.6"/>
<circle cx="199.5" cy="224.9" r="2.6"/>
<circle cx="222.2" cy="247.8" r="2.6"/>
<circle cx="151.5" cy="236.1" r="2.6"/>
<circle cx="112.3" cy="259.9" r="2.6"/>
<circle cx="148.6" cy="245.7" r="2.6"/>
<circle cx="156.6" cy="238.8" r="2.6"/>
<circle cx="111.2" cy="288.7" r="2.6"/>
<circle cx="117.9" cy="267.7" r="2.6"/>
<circle cx="198.1" cy="252.6" r="2.6"/>
<circle cx="174.1" cy="271.1" r="2.6"/>
<circle cx="112.5" cy="257.9" r="2.6"/>
<circle cx="177.3" cy="240.2" r="2.6"/>
<circle cx="108.1" cy="277.4" r="2.6"/>
<circle cx="140.1" cy="259.9" r="2.6"/>
<circle cx="105.5" cy="257.0" r="2.6"/>
<circle cx="131.0" cy="257.2" r="2.6"/>
<circle cx="171.1" cy="249.0" r="2.6"/>
<circle cx="105.6" cy="260.1" r="2.6"/>
<circle cx="203.6" cy="256.2" r="2.6"/>
<circle cx="136.8" cy="238.5" r="2.6"/>
<circle cx="206.9" cy="248.7" r="2.6"/>
<circle cx="186.8" cy="249.0" r="2.6"/>
<circle cx="185.5" cy="240.5" r="2.6"/>
<circle cx="117.5" cy="271.2" r="2.6"/>
<circle cx="155.6" cy="248.3" r="2.6"/>
<circle cx="175.0" cy="244.8" r="2.6"/>
<circle cx="145.5" cy="238.7" r="2.6"/>
<circle cx="198.3" cy="270.2" r="2.6"/>
<circle cx="183.1" cy="239.9" r="2.6"/>
<circle cx="99.9" cy="269.0" r="2.6"/>
<circle cx="150.8" cy="226.6" r="2.6"/>
<circle cx="186.4" cy="248.0" r="2.6"/>
<circle cx="187.6" cy="224.8" r="2.6"/>
<circle cx="124.9" cy="258.7" r="2.6"/>
<circle cx="166.6" cy="247.1" r="2.6"/>
<circle cx="204.1" cy="266.5" r="2.6"/>
<circle cx="114.7" cy="266.7" r="2.6"/>
<circle cx="122.7" cy="254.0" r="2.6"/>
<circle cx="104.1" cy="263.1" r="2.6"/>
<circle cx="146.6" cy="265.8" r="2.6"/>
<circle cx="189.9" cy="243.1" r="2.6"/>
<circle cx="167.7" cy="259.9" r="2.6"/>
<circle cx="125.1" cy="286.7" r="2.6"/>
<circle cx="186.6" cy="250.8" r="2.6"/>
<circle cx="130.1" cy="231.6" r="2.6"/>
<circle cx="181.3" cy="251.5" r="2.6"/>
<circle cx="212.2" cy="241.2" r="2.6"/>
<circle cx="149.3" cy="267.1" r="2.6"/>
<circle cx="153.7" cy="262.4" r="2.6"/>
<circle cx="155.1" cy="273.3" r="2.6"/>
<circle cx="200.2" cy="241.1" r="2.6"/>
<circle cx="142.6" cy="226.7" r="2.6"/>
<circle cx="148.7" cy="260.3" r="2.6"/>
<circle cx="169.4" cy="245.4" r="2.6"/>
<circle cx="134.1" cy="266.4" r="2.6"/>
<circle cx="150.6" cy="241.8" r="2.6"/>
<circle cx="201.8" cy="247.1" r="2.6"/>
<circle cx="139.6" cy="235.0" r="2.6"/>
<circle cx="162.3" cy="250.7" r="2.6"/>
<circle cx="144.5" cy="254.1" r="2.6"/>
<circle cx="195.9" cy="229.7" r="2.6"/>
<circle cx="180.5" cy="248.7" r="2.6"/>
<circle cx="99.8" cy="266.4" r="2.6"/>
<circle cx="148.4" cy="248.0" r="2.6"/>
<circle cx="193.5" cy="253.0" r="2.6"/>
<circle cx="133.3" cy="249.9" r="2.6"/>
<circle cx="112.2" cy="255.4" r="2.6"/>
<circle cx="202.1" cy="220.9" r="2.6"/>
<circle cx="164.6" cy="259.8" r="2.6"/>
<circle cx="176.8" cy="238.1" r="2.6"/>
<circle cx="101.1" cy="265.8" r="2.6"/>
<circle cx="177.6" cy="239.8" r="2.6"/>
<circle cx="130.4" cy="239.8" r="2.6"/>
<circle cx="148.8" cy="279.0" r="2.6"/>
<circle cx="216.3" cy="245.8" r="2.6"/>
<circle cx="134.5" cy="246.9" r="2.6"/>
<circle cx="208.2" cy="244.9" r="2.6"/>
<circle cx="205.6" cy="254.8" r="2.6"/>
<circle cx="116.8" cy="267.5" r="2.6"/>
<circle cx="106.1" cy="269.6" r="2.6"/>
<circle cx="147.2" cy="280.0" r="2.6"/>
<circle cx="201.5" cy="241.9" r="2.6"/>
<circle cx="138.0" cy="256.7" r="2.6"/>
<circle cx="187.4" cy="232.9" r="2.6"/>
<circle cx="202.8" cy="228.0" r="2.6"/>
<circle cx="183.6" cy="267.3" r="2.6"/>
<circle cx="205.3" cy="241.4" r="2.6"/>
<circle cx="178.8" cy="230.7" r="2.6"/>
<circle cx="170.6" cy="248.7" r="2.6"/>
<circle cx="145.4" cy="246.2" r="2.6"/>
<circle cx="182.3" cy="255.1" r="2.6"/>
<circle cx="119.8" cy="248.7" r="2.6"/>
<circle cx="196.5" cy="253.0" r="2.6"/>
<circle cx="207.9" cy="248.2" r="2.6"/>
<circle cx="181.6" cy="236.6" r="2.6"/>
<circle cx="122.0" cy="261.4" r="2.6"/>
<circle cx="210.0" cy="249.0" r="2.6"/>
<circle cx="159.1" cy="231.7" r="2.6"/>
<circle cx="215.9" cy="262.4" r="2.6"/>
<circle cx="137.9" cy="272.1" r="2.6"/>
<circle cx="143.7" cy="236.0" r="2.6"/>
<circle cx="150.7" cy="254.4" r="2.6"/>
<circle cx="193.7" cy="255.0" r="2.6"/>
<circle cx="137.1" cy="245.0" r="2.6"/>
<circle cx="203.2" cy="249.4" r="2.6"/>
<circle cx="140.4" cy="251.3" r="2.6"/>
<circle cx="205.7" cy="254.0" r="2.6"/>
<circle cx="127.2" cy="279.1" r="2.6"/>
<circle cx="161.6" cy="243.2" r="2.6"/>
<circle cx="145.6" cy="229.3" r="2.6"/>
<circle cx="194.6" cy="261.0" r="2.6"/>
<circle cx="182.2" cy="266.0" r="2.6"/>
<circle cx="204.8" cy="253.7" r="2.6"/>
<circle cx="179.8" cy="262.5" r="2.6"/>
<circle cx="123.1" cy="281.4" r="2.6"/>
<circle cx="141.9" cy="280.5" r="2.6"/>
<circle cx="187.9" cy="218.1" r="2.6"/>
<circle cx="165.7" cy="251.1" r="2.6"/>
<circle cx="202.1" cy="272.2" r="2.6"/>
<circle cx="147.7" cy="259.7" r="2.6"/>
<circle cx="102.3" cy="264.2" r="2.6"/>
<circle cx="165.7" cy="247.2" r="2.6"/>
<circle cx="166.6" cy="230.1" r="2.6"/>
<circle cx="209.0" cy="231.7" r="2.6"/>
<circle cx="203.4" cy="231.6" r="2.6"/>
<circle cx="182.2" cy="263.3" r="2.6"/>
<circle cx="198.2" cy="249.8" r="2.6"/>
<circle cx="153.2" cy="259.8" r="2.6"/>
<circle cx="188.5" cy="249.2" r="2.6"/>
<circle cx="150.1" cy="270.7" r="2.6"/>
<circle cx="191.6" cy="242.7" r="2.6"/>
<circle cx="180.2" cy="232.7" r="2.6"/>
<circle cx="145.6" cy="231.7" r="2.6"/>
<circle cx="187.8" cy="233.2" r="2.6"/>
<circle cx="197.7" cy="218.4" r="2.6"/>
<circle cx="170.8" cy="220.3" r="2.6"/>
<circle cx="170.9" cy="249.7" r="2.6"/>
<circle cx="126.6" cy="282.1" r="2.6"/>
<circle cx="136.8" cy="273.6" r="2.6"/>
<circle cx="198.4" cy="250.7" r="2.6"/>
<circle cx="112.8" cy="260.2" r="2.6"/>
<circle cx="143.3" cy="247.9" r="2.6"/>
<circle cx="210.7" cy="253.7" r="2.6"/>
<circle cx="152.0" cy="233.0" r="2.6"/>
<circle cx="183.8" cy="243.6" r="2.6"/>
<circle cx="220.5" cy="229.6" r="2.6"/>
<circle cx="141.5" cy="230.1" r="2.6"/>
<circle cx="210.1" cy="257.5" r="2.6"/>
<circle cx="133.0" cy="254.0" r="2.6"/>
<circle cx="175.5" cy="264.5" r="2.6"/>
<circle cx="115.1" cy="265.9" r="2.6"/>
<circle cx="150.8" cy="257.8" r="2.6"/>
<circle cx="141.8" cy="246.2" r="2.6"/>
<circle cx="109.8" cy="266.5" r="2.6"/>
<circle cx="207.3" cy="255.2" r="2.6"/>
<circle cx="206.1" cy="268.8" r="2.6"/>
<circle cx="133.3" cy="246.6" r="2.6"/>
<circle cx="128.3" cy="288.8" r="2.6"/>
<circle cx="187.8" cy="225.2" r="2.6"/>
<circle cx="131.6" cy="292.6" r="2.6"/>
<circle cx="177.1" cy="234.3" r="2.6"/>
<circle cx="149.4" cy="255.4" r="2.6"/>
<circle cx="201.2" cy="232.9" r="2.6"/>
<circle cx="168.9" cy="273.4" r="2.6"/>
<circle cx="149.4" cy="270.9" r="2.6"/>
<circle cx="212.2" cy="248.9" r="2.6"/>
<circle cx="179.4" cy="229.1" r="2.6"/>
<circle cx="171.1" cy="263.9" r="2.6"/>
<circle cx="148.9" cy="254.6" r="2.6"/>
<circle cx="135.4" cy="282.4" r="2.6"/>
<circle cx="172.5" cy="272.9" r="2.6"/>
<circle cx="173.6" cy="260.8" r="2.6"/>
<circle cx="161.8" cy="265.5" r="2.6"/>
<circle cx="113.7" cy="247.4" r="2.6"/>
<circle cx="178.2" cy="239.0" r="2.6"/>
<circle cx="137.8" cy="238.7" r="2.6"/>
<circle cx="116.2" cy="257.3" r="2.6"/>
<circle cx="185.1" cy="220.1" r="2.6"/>
<circle cx="143.7" cy="244.7" r="2.6"/>
<circle cx="155.8" cy="245.9" r="2.6"/>
<circle cx="165.1" cy="264.2" r="2.6"/>
<circle cx="182.7" cy="224.5" r="2.6"/>
<circle cx="202.9" cy="226.0" r="2.6"/>
<circle cx="212.3" cy="246.2" r="2.6"/>
<circle cx="109.6" cy="256.2" r="2.6"/>
<circle cx="114.1" cy="262.2" r="2.6"/>
<circle cx="154.7" cy="237.1" r="2.6"/>
<circle cx="113.1" cy="260.2" r="2.6"/>
<circle cx="181.5" cy="229.1" r="2.6"/>
<circle cx="156.0" cy="239.0" r="2.6"/>
<circle cx="139.4" cy="274.7" r="2.6"/>
<circle cx="99.9" cy="264.5" r="2.6"/>
<circle cx="188.6" cy="233.7" r="2.6"/>
<circle cx="157.4" cy="261.2" r="2.6"/>
<circle cx="160.5" cy="235.6" r="2.6"/>
<circle cx="190.9" cy="253.0" r="2.6"/>
<circle cx="173.3" cy="269.2" r="2.6"/>
<circle cx="133.0" cy="272.1" r="2.6"/>
<circle cx="155.4" cy="230.3" r="2.6"/>
<circle cx="129.6" cy="240.1" r="2.6"/>
<circle cx="164.1" cy="271.2" r="2.6"/>
<circle cx="204.7" cy="256.7" r="2.6"/>
<circle cx="130.9" cy="286.8" r="2.6"/>
<circle cx="106.7" cy="261.0" r="2.6"/>
<circle cx="150.9" cy="250.8" r="2.6"/>
<circle cx="196.9" cy="231.3" r="2.6"/>
<circle cx="136.7" cy="241.0" r="2.6"/>
<circle cx="160.0" cy="250.4" r="2.6"/>
<circle cx="111.3" cy="262.1" r="2.6"/>
<circle cx="161.0" cy="232.7" r="2.6"/>
<circle cx="154.4" cy="248.9" r="2.6"/>
<circle cx="154.0" cy="259.2" r="2.6"/>
<circle cx="130.8" cy="268.9" r="2.6"/>
<circle cx="145.5" cy="238.0" r="2.6"/>
<circle cx="185.1" cy="249.5" r="2.6"/>
<circle cx="177.4" cy="258.2" r="2.6"/>
<circle cx="108.5" cy="248.9" r="2.6"/>
<circle cx="181.8" cy="225.4" r="2.6"/>
<circle cx="184.0" cy="232.9" r="2.6"/>
<circle cx="108.7" cy="260.7" r="2.6"/>
<circle cx="124.6" cy="251.0" r="2.6"/>
<circle cx="163.2" cy="266.6" r="2.6"/>
<circle cx="174.4" cy="251.9" r="2.6"/>
<circle cx="177.0" cy="244.4" r="2.6"/>
<circle cx="209.4" cy="255.3" r="2.6"/>
<circle cx="134.5" cy="260.6" r="2.6"/>
<circle cx="132.5" cy="230.5" r="2.6"/>
<circle cx="124.4" cy="264.4" r="2.6"/>
<circle cx="159.3" cy="254.5" r="2.6"/>
<circle cx="165.2" cy="230.5" r="2.6"/>
<circle cx="172.5" cy="222.7" r="2.6"/>
<circle cx="220.5" cy="242.4" r="2.6"/>
<circle cx="173.4" cy="255.7" r="2.6"/>
<circle cx="131.6" cy="279.5" r="2.6"/>
<circle cx="151.0" cy="248.2" r="2.6"/>
<circle cx="145.1" cy="238.8" r="2.6"/>
<circle cx="112.0" cy="255.3" r="2.6"/>
<circle cx="112.7" cy="285.6" r="2.6"/>
<circle cx="163.5" cy="236.8" r="2.6"/>
<circle cx="109.9" cy="283.0" r="2.6"/>
<circle cx="134.7" cy="243.5" r="2.6"/>
<circle cx="182.3" cy="271.7" r="2.6"/>
<circle cx="110.2" cy="265.9" r="2.6"/>
<circle cx="192.8" cy="232.0" r="2.6"/>
<circle cx="123.2" cy="269.1" r="2.6"/>
<circle cx="143.4" cy="257.2" r="2.6"/>
<circle cx="172.5" cy="254.5" r="2.6"/>
<circle cx="124.8" cy="247.2" r="2.6"/>
<circle cx="129.2" cy="248.4" r="2.6"/>
<circle cx="141.1" cy="276.4" r="2.6"/>
<circle cx="118.7" cy="261.4" r="2.6"/>
<circle cx="209.6" cy="228.4" r="2.6"/>
<circle cx="145.7" cy="254.0" r="2.6"/>
<circle cx="133.2" cy="266.7" r="2.6"/>
<circle cx="170.1" cy="260.0" r="2.6"/>
<circle cx="170.9" cy="252.1" r="2.6"/>
<circle cx="156.1" cy="257.7" r="2.6"/>
<circle cx="174.4" cy="249.5" r="2.6"/>
<circle cx="179.4" cy="249.6" r="2.6"/>
<circle cx="206.3" cy="238.3" r="2.6"/>
<circle cx="126.5" cy="237.8" r="2.6"/>
<circle cx="136.6" cy="246.2" r="2.6"/>
<circle cx="184.8" cy="253.2" r="2.6"/>
<circle cx="137.4" cy="244.3" r="2.6"/>
<circle cx="156.7" cy="233.0" r="2.6"/>
<circle cx="212.8" cy="246.7" r="2.6"/>
<circle cx="138.0" cy="269.6" r="2.6"/>
<circle cx="174.6" cy="240.3" r="2.6"/>
<circle cx="107.8" cy="261.6" r="2.6"/>
<circle cx="211.9" cy="256.1" r="2.6"/>
<circle cx="152.8" cy="250.2" r="2.6"/>
<circle cx="102.7" cy="266.2" r="2.6"/>
<circle cx="165.0" cy="259.4" r="2.6"/>
<circle cx="115.0" cy="257.6" r="2.6"/>
<circle cx="167.1" cy="245.1" r="2.6"/>
<circle cx="200.9" cy="232.0" r="2.6"/>
<circle cx="151.2" cy="261.9" r="2.6"/>
<circle cx="133.7" cy="261.1" r="2.6"/>
<circle cx="114.4" cy="272.6" r="2.6"/>
<circle cx="148.4" cy="245.7" r="2.6"/>
<circle cx="172.9" cy="245.8" r="2.6"/>
<circle cx="146.8" cy="240.2" r="2.6"/>
<circle cx="135.3" cy="245.6" r="2.6"/>
<circle cx="192.1" cy="236.5" r="2.6"/>
<circle cx="172.4" cy="226.2" r="2.6"/>
<circle cx="113.3" cy="273.7" r="2.6"/>
<circle cx="131.4" cy="265.9" r="2.6"/>
<circle cx="187.9" cy="228.0" r="2.6"/>
<circle cx="161.2" cy="242.6" r="2.6"/>
<circle cx="155.6" cy="271.8" r="2.6"/>
<circle cx="142.9" cy="264.0" r="2.6"/>
<circle cx="124.2" cy="273.5" r="2.6"/>
<circle cx="160.3" cy="236.4" r="2.6"/>
<circle cx="188.5" cy="251.5" r="2.6"/>
<circle cx="137.4" cy="286.7" r="2.6"/>
<circle cx="103.3" cy="270.0" r="2.6"/>
<circle cx="215.0" cy="221.3" r="2.6"/>
<circle cx="193.5" cy="266.8" r="2.6"/>
<circle cx="130.2" cy="276.5" r="2.6"/>
<circle cx="151.7" cy="254.4" r="2.6"/>
<circle cx="162.1" cy="246.1" r="2.6"/>
<circle cx="155.4" cy="228.2" r="2.6"/>
<circle cx="126.1" cy="240.9" r="2.6"/>
<circle cx="162.0" cy="247.3" r="2.6"/>
<circle cx="134.6" cy="273.7" r="2.6"/>
<circle cx="128.9" cy="237.5" r="2.6"/>
<circle cx="134.2" cy="289.2" r="2.6"/>
<circle cx="187.0" cy="231.7" r="2.6"/>
<circle cx="138.8" cy="258.4" r="2.6"/>
<circle cx="147.2" cy="229.2" r="2.6"/>
<circle cx="128.2" cy="238.0" r="2.6"/>
<circle cx="167.0" cy="255.7" r="2.6"/>
<circle cx="122.7" cy="278.4" r="2.6"/>
<circle cx="182.1" cy="237.4" r="2.6"/>
<circle cx="161.7" cy="257.5" r="2.6"/>
<circle cx="163.8" cy="235.6" r="2.6"/>
<circle cx="128.6" cy="249.7" r="2.6"/>
<circle cx="150.1" cy="242.8" r="2.6"/>
<circle cx="159.6" cy="259.2" r="2.6"/>
<circle cx="128.2" cy="240.8" r="2.6"/>
<circle cx="173.3" cy="258.5" r="2.6"/>
<circle cx="109.9" cy="245.7" r="2.6"/>
<circle cx="99.3" cy="263.4" r="2.6"/>
<circle cx="204.7" cy="246.8" r="2.6"/>
<circle cx="151.8" cy="243.3" r="2.6"/>
<circle cx="118.7" cy="261.1" r="2.6"/>
<circle cx="208.1" cy="230.5" r="2.6"/>
<circle cx="131.9" cy="228.9" r="2.6"/>
<circle cx="123.7" cy="291.4" r="2.6"/>
<circle cx="148.5" cy="239.4" r="2.6"/>
<circle cx="198.7" cy="250.7" r="2.6"/>
<circle cx="187.3" cy="227.6" r="2.6"/>
<circle cx="115.9" cy="262.1" r="2.6"/>
<circle cx="131.1" cy="252.3" r="2.6"/>
<circle cx="220.6" cy="259.5" r="2.6"/>
<circle cx="142.4" cy="262.8" r="2.6"/>
<circle cx="115.2" cy="266.5" r="2.6"/>
<circle cx="202.5" cy="270.2" r="2.6"/>
<circle cx="114.0" cy="257.4" r="2.6"/>
<circle cx="136.1" cy="238.1" r="2.6"/>
<circle cx="143.9" cy="259.1" r="2.6"/>
<circle cx="172.6" cy="240.3" r="2.6"/>
<circle cx="169.2" cy="246.5" r="2.6"/>
<circle cx="138.5" cy="261.8" r="2.6"/>
<circle cx="140.9" cy="241.4" r="2.6"/>
<circle cx="209.7" cy="222.5" r="2.6"/>
<circle cx="105.5" cy="269.8" r="2.6"/>
<circle cx="124.1" cy="244.2" r="2.6"/>
<circle cx="168.5" cy="223.8" r="2.6"/>
<circle cx="129.1" cy="271.3" r="2.6"/>
<circle cx="198.9" cy="230.3" r="2.6"/>
<circle cx="99.8" cy="269.2" r="2.6"/>
<circle cx="172.4" cy="249.7" r="2.6"/>
<circle cx="191.0" cy="249.5" r="2.6"/>
<circle cx="139.7" cy="245.1" r="2.6"/>
<circle cx="132.3" cy="248.7" r="2.6"/>
<circle cx="182.3" cy="227.8" r="2.6"/>
<circle cx="132.9" cy="258.6" r="2.6"/>
<circle cx="129.7" cy="283.7" r="2.6"/>
<circle cx="213.0" cy="248.9" r="2.6"/>
<circle cx="186.2" cy="258.1" r="2.6"/>
<circle cx="121.6" cy="257.0" r="2.6"/>
<circle cx="157.8" cy="242.3" r="2.6"/>
<circle cx="100.6" cy="264.6" r="2.6"/>
<circle cx="206.5" cy="237.8" r="2.6"/>
<circle cx="174.8" cy="231.6" r="2.6"/>
<circle cx="144.2" cy="250.7" r="2.6"/>
<circle cx="169.7" cy="251.4" r="2.6"/>
<circle cx="147.9" cy="229.1" r="2.6"/>
<circle cx="167.5" cy="250.8" r="2.6"/>
<circle cx="209.6" cy="244.6" r="2.6"/>
<circle cx="149.5" cy="250.5" r="2.6"/>
<circle cx="146.3" cy="280.8" r="2.6"/>
<circle cx="212.5" cy="266.3" r="2.6"/>
<circle cx="180.7" cy="258.0" r="2.6"/>
<circle cx="204.4" cy="264.7" r="2.6"/>
<circle cx="199.0" cy="255.2" r="2.6"/>
<circle cx="212.5" cy="245.3" r="2.6"/>
<circle cx="174.2" cy="236.2" r="2.6"/>
<circle cx="187.6" cy="250.2" r="2.6"/>
<circle cx="131.0" cy="270.3" r="2.6"/>
<circle cx="121.0" cy="259.5" r="2.6"/>
<circle cx="115.2" cy="262.8" r="2.6"/>
<circle cx="172.6" cy="266.4" r="2.6"/>
<circle cx="110.0" cy="268.9" r="2.6"/>
<circle cx="178.3" cy="220.5" r="2.6"/>
<circle cx="120.6" cy="270.3" r="2.6"/>
<circle cx="145.4" cy="245.8" r="2.6"/>
<circle cx="117.1" cy="263.6" r="2.6"/>
<circle cx="212.3" cy="223.9" r="2.6"/>
<circle cx="120.4" cy="276.1" r="2.6"/>
<circle cx="129.4" cy="250.3" r="2.6"/>
<circle cx="205.8" cy="247.8" r="2.6"/>
<circle cx="177.2" cy="231.2" r="2.6"/>
<circle cx="204.8" cy="241.9" r="2.6"/>
<circle cx="166.8" cy="223.9" r="2.6"/>
<circle cx="131.6" cy="254.7" r="2.6"/>
<circle cx="140.5" cy="236.3" r="2.6"/>
<circle cx="105.2" cy="255.2" r="2.6"/>
<circle cx="169.8" cy="232.8" r="2.6"/>
<circle cx="115.4" cy="254.8" r="2.6"/>
<circle cx="138.6" cy="237.4" r="2.6"/>
<circle cx="121.6" cy="269.3" r="2.6"/>
<circle cx="192.7" cy="240.2" r="2.6"/>
<circle cx="121.9" cy="279.3" r="2.6"/>
<circle cx="156.9" cy="267.5" r="2.6"/>
<circle cx="194.4" cy="260.1" r="2.6"/>
<circle cx="152.9" cy="229.4" r="2.6"/>
<circle cx="213.9" cy="251.3" r="2.6"/>
<circle cx="176.9" cy="264.2" r="2.6"/>
<circle cx="155.9" cy="259.1" r="2.6"/>
<circle cx="143.7" cy="282.7" r="2.6"/>
<circle cx="198.0" cy="238.9" r="2.6"/>
<circle cx="181.2" cy="244.1" r="2.6"/>
<circle cx="203.8" cy="252.2" r="2.6"/>
<circle cx="177.7" cy="242.9" r="2.6"/>
<circle cx="209.8" cy="224.6" r="2.6"/>
<circle cx="108.3" cy="261.6" r="2.6"/>
<circle cx="216.2" cy="237.3" r="2.6"/>
<circle cx="153.0" cy="234.8" r="2.6"/>
<circle cx="156.8" cy="257.2" r="2.6"/>
<circle cx="188.8" cy="226.4" r="2.6"/>
<circle cx="176.4" cy="259.7" r="2.6"/>
<circle cx="120.7" cy="247.9" r="2.6"/>
<circle cx="198.3" cy="258.4" r="2.6"/>
<circle cx="189.2" cy="218.2" r="2.6"/>
<circle cx="133.5" cy="275.9" r="2.6"/>
<circle cx="101.8" cy="263.9" r="2.6"/>
<circle cx="147.7" cy="270.8" r="2.6"/>
<circle cx="119.5" cy="264.7" r="2.6"/>
<circle cx="139.4" cy="269.6" r="2.6"/>
<circle cx="188.6" cy="217.5" r="2.6"/>
<circle cx="140.6" cy="277.8" r="2.6"/>
<circle cx="185.5" cy="256.6" r="2.6"/>
<circle cx="115.1" cy="244.0" r="2.6"/>
<circle cx="143.5" cy="232.1" r="2.6"/>
<circle cx="113.8" cy="271.5" r="2.6"/>
<circle cx="196.2" cy="236.5" r="2.6"/>
<circle cx="169.1" cy="272.9" r="2.6"/>
<circle cx="207.0" cy="240.4" r="2.6"/>
<circle cx="120.6" cy="285.5" r="2.6"/>
<circle cx="142.1" cy="263.4" r="2.6"/>
<circle cx="196.7" cy="222.3" r="2.6"/>
<circle cx="136.7" cy="285.9" r="2.6"/>
<circle cx="130.3" cy="260.2" r="2.6"/>
<circle cx="130.4" cy="258.0" r="2.6"/>
<circle cx="151.8" cy="249.4" r="2.6"/>
<circle cx="191.9" cy="240.7" r="2.6"/>
<circle cx="180.9" cy="257.1" r="2.6"/>
<circle cx="179.2" cy="226.5" r="2.6"/>
<circle cx="104.5" cy="265.3" r="2.6"/>
<circle cx="113.4" cy="272.3" r="2.6"/>
<circle cx="138.3" cy="269.6" r="2.6"/>
<circle cx="111.7" cy="264.8" r="2.6"/>
<circle cx="172.1" cy="227.0" r="2.6"/>
<circle cx="196.0" cy="240.5" r="2.6"/>
<circle cx="112.2" cy="270.3" r="2.6"/>
<circle cx="183.2" cy="263.0" r="2.6"/>
<circle cx="112.2" cy="279.1" r="2.6"/>
<circle cx="115.3" cy="246.7" r="2.6"/>
<circle cx="205.2" cy="264.4" r="2.6"/>
<circle cx="210.0" cy="232.7" r="2.6"/>
<circle cx="125.5" cy="270.0" r="2.6"/>
<circle cx="129.3" cy="249.9" r="2.6"/>
<circle cx="210.0" cy="228.6" r="2.6"/>
<circle cx="166.7" cy="242.3" r="2.6"/>
<circle cx="165.3" cy="263.0" r="2.6"/>
<circle cx="147.4" cy="271.3" r="2.6"/>
<circle cx="218.1" cy="227.2" r="2.6"/>
<circle cx="135.7" cy="251.1" r="2.6"/>
<circle cx="181.7" cy="235.0" r="2.6"/>
<circle cx="121.5" cy="243.4" r="2.6"/>
<circle cx="153.7" cy="264.6" r="2.6"/>
<circle cx="157.2" cy="243.1" r="2.6"/>
<circle cx="151.8" cy="251.2" r="2.6"/>
<circle cx="104.7" cy="260.9" r="2.6"/>
<circle cx="186.0" cy="234.3" r="2.6"/>
<circle cx="137.1" cy="282.9" r="2.6"/>
<circle cx="206.1" cy="260.6" r="2.6"/>
<circle cx="180.9" cy="268.0" r="2.6"/>
<circle cx="166.4" cy="223.8" r="2.6"/>
<circle cx="206.5" cy="234.5" r="2.6"/>
<circle cx="205.2" cy="237.5" r="2.6"/>
<circle cx="104.3" cy="253.9" r="2.6"/>
<circle cx="208.4" cy="264.1" r="2.6"/>
<circle cx="142.6" cy="229.4" r="2.6"/>
<circle cx="144.7" cy="262.5" r="2.6"/>
<circle cx="160.2" cy="251.4" r="2.6"/>
<circle cx="150.7" cy="269.4" r="2.6"/>
<circle cx="130.5" cy="261.4" r="2.6"/>
<circle cx="129.8" cy="255.5" r="2.6"/>
<circle cx="186.4" cy="227.3" r="2.6"/>
<circle cx="104.9" cy="279.5" r="2.6"/>
<circle cx="189.6" cy="249.2" r="2.6"/>
<circle cx="115.9" cy="251.0" r="2.6"/>
<circle cx="174.1" cy="220.5" r="2.6"/>
<circle cx="187.7" cy="247.3" r="2.6"/>
<circle cx="103.8" cy="268.4" r="2.6"/>
<circle cx="201.6" cy="233.3" r="2.6"/>
<circle cx="107.5" cy="274.3" r="2.6"/>
<circle cx="162.1" cy="261.9" r="2.6"/>
<circle cx="108.4" cy="267.7" r="2.6"/>
<circle cx="176.2" cy="255.4" r="2.6"/>
<circle cx="178.5" cy="245.1" r="2.6"/>
<circle cx="112.2" cy="271.5" r="2.6"/>
<circle cx="142.3" cy="231.5" r="2.6"/>
<circle cx="128.9" cy="231.5" r="2.6"/>
<circle cx="166.3" cy="231.9" r="2.6"/>
<circle cx="193.2" cy="255.3" r="2.6"/>
<circle cx="136.4" cy="251.9" r="2.6"/>
<circle cx="153.0" cy="207.0" r="2.6"/>
<circle cx="186.0" cy="315.0" r="2.6"/>
<circle cx="220.0" cy="214.7" r="2.6"/>
<circle cx="255.5" cy="242.0" r="2.6"/>
<circle cx="235.0" cy="249.0" r="2.6"/>
<circle cx="228.0" cy="236.0" r="2.6"/>
</g>
<g fill="#eaa512" stroke="#5c440a" stroke-width="0.6">
<circle cx="197.0" cy="264.5" r="2.6"/>
<circle cx="211.0" cy="264.0" r="2.6"/>
<circle cx="218.0" cy="263.0" r="2.6"/>
<circle cx="223.5" cy="262.5" r="2.6"/>
<circle cx="229.0" cy="264.0" r="2.6"/>
<circle cx="210.5" cy="220.3" r="2.6"/>
<circle cx="213.5" cy="236.0" r="2.6"/>
<circle cx="217.0" cy="251.0" r="2.6"/>
<circle cx="209.0" cy="243.0" r="2.6"/>
<circle cx="206.0" cy="229.0" r="2.6"/>
</g>
<g fill="#4db3ec" stroke="#1e4966" stroke-width="0.6">
<circle cx="67.6" cy="294.9" r="2.6"/>
<circle cx="72.5" cy="310.1" r="2.6"/>
<circle cx="74.4" cy="331.9" r="2.6"/>
<circle cx="84.6" cy="333.2" r="2.6"/>
<circle cx="91.4" cy="337.4" r="2.6"/>
<circle cx="112.3" cy="327.6" r="2.6"/>
<circle cx="79.9" cy="292.9" r="2.6"/>
<circle cx="84.6" cy="287.9" r="2.6"/>
<circle cx="88.2" cy="290.1" r="2.6"/>
<circle cx="92.9" cy="288.9" r="2.6"/>
<circle cx="97.5" cy="282.4" r="2.6"/>
<circle cx="102.7" cy="285.7" r="2.6"/>
<circle cx="93.2" cy="293.5" r="2.6"/>
<circle cx="98.4" cy="294.9" r="2.6"/>
<circle cx="91.4" cy="297.5" r="2.6"/>
<circle cx="96.0" cy="298.6" r="2.6"/>
<circle cx="100.3" cy="299.6" r="2.6"/>
<circle cx="102.7" cy="300.9" r="2.6"/>
<circle cx="86.4" cy="303.6" r="2.6"/>
<circle cx="91.0" cy="304.0" r="2.6"/>
<circle cx="95.3" cy="303.6" r="2.6"/>
<circle cx="99.9" cy="303.6" r="2.6"/>
<circle cx="86.4" cy="308.2" r="2.6"/>
<circle cx="103.9" cy="307.3" r="2.6"/>
<circle cx="96.0" cy="309.2" r="2.6"/>
<circle cx="91.4" cy="312.9" r="2.6"/>
<circle cx="96.6" cy="311.9" r="2.6"/>
<circle cx="104.9" cy="310.1" r="2.6"/>
<circle cx="108.6" cy="311.0" r="2.6"/>
<circle cx="99.3" cy="314.7" r="2.6"/>
<circle cx="103.9" cy="314.7" r="2.6"/>
<circle cx="82.7" cy="317.9" r="2.6"/>
<circle cx="80.3" cy="320.3" r="2.6"/>
<circle cx="83.6" cy="321.2" r="2.6"/>
<circle cx="91.9" cy="319.3" r="2.6"/>
<circle cx="96.0" cy="320.3" r="2.6"/>
<circle cx="99.9" cy="318.4" r="2.6"/>
<circle cx="104.9" cy="318.4" r="2.6"/>
<circle cx="102.7" cy="322.1" r="2.6"/>
<circle cx="95.6" cy="323.9" r="2.6"/>
<circle cx="97.5" cy="327.6" r="2.6"/>
<circle cx="100.3" cy="322.1" r="2.6"/>
</g>
<rect x="38.7" y="198.5" width="16.2" height="17" fill="#fff"/>
<text x="41.8" y="210.9" font-family="Liberation Serif, serif" font-size="12.5" fill="#222">c)</text>
<line x1="32.0" x2="32.0" y1="198.0" y2="351.5" stroke="#000" stroke-width="2.2"/>
<line x1="30.9" x2="377.6" y1="351.0" y2="351.0" stroke="#000" stroke-width="2.2"/>
<line x1="32.5" x2="36.5" y1="351.00" y2="351.00" stroke="#000" stroke-width="1.5"/>
<text x="27.1" y="354.10" text-anchor="end" font-family="Liberation Serif, serif" font-size="9.3" fill="#222">-6</text>
<line x1="32.5" x2="36.5" y1="320.50" y2="320.50" stroke="#000" stroke-width="1.5"/>
<text x="27.1" y="323.60" text-anchor="end" font-family="Liberation Serif, serif" font-size="9.3" fill="#222">-4</text>
<line x1="32.5" x2="36.5" y1="290.00" y2="290.00" stroke="#000" stroke-width="1.5"/>
<text x="27.1" y="293.10" text-anchor="end" font-family="Liberation Serif, serif" font-size="9.3" fill="#222">-2</text>
<line x1="32.5" x2="36.5" y1="259.50" y2="259.50" stroke="#000" stroke-width="1.5"/>
<text x="27.1" y="262.60" text-anchor="end" font-family="Liberation Serif, serif" font-size="9.3" fill="#222">0</text>
<line x1="32.5" x2="36.5" y1="229.00" y2="229.00" stroke="#000" stroke-width="1.5"/>
<text x="27.1" y="232.10" text-anchor="end" font-family="Liberation Serif, serif" font-size="9.3" fill="#222">2</text>
<line x1="32.5" x2="36.5" y1="198.50" y2="198.50" stroke="#000" stroke-width="1.5"/>
<text x="27.1" y="201.60" text-anchor="end" font-family="Liberation Serif, serif" font-size="9.3" fill="#222">4</text>
<line x1="32.5" x2="34.5" y1="335.75" y2="335.75" stroke="#000" stroke-width="1.2"/>
<line x1="32.5" x2="34.5" y1="305.25" y2="305.25" stroke="#000" stroke-width="1.2"/>
<line x1="32.5" x2="34.5" y1="274.75" y2="274.75" stroke="#000" stroke-width="1.2"/>
<line x1="32.5" x2="34.5" y1="244.25" y2="244.25" stroke="#000" stroke-width="1.2"/>
<line x1="32.5" x2="34.5" y1="213.75" y2="213.75" stroke="#000" stroke-width="1.2"/>
<line y1="351" y2="346.2" x1="32.50" x2="32.50" stroke="#000" stroke-width="1.5"/>
<text x="32.50" y="362.9" text-anchor="middle" font-family="Liberation Serif, serif" font-size="9.3" fill="#222">-5</text>
<line y1="351" y2="346.2" x1="204.50" x2="204.50" stroke="#000" stroke-width="1.5"/>
<text x="204.50" y="362.9" text-anchor="middle" font-family="Liberation Serif, serif" font-size="9.3" fill="#222">0</text>
<line y1="351" y2="346.2" x1="376.50" x2="376.50" stroke="#000" stroke-width="1.5"/>
<text x="376.50" y="362.9" text-anchor="middle" font-family="Liberation Serif, serif" font-size="9.3" fill="#222">5</text>
<line y1="351" y2="348.0" x1="118.50" x2="118.50" stroke="#000" stroke-width="1.2"/>
<line y1="351" y2="348.0" x1="290.50" x2="290.50" stroke="#000" stroke-width="1.2"/>
<rect x="303" y="312.8" width="72.3" height="36.6" fill="#fff"/>
<circle cx="315.4" cy="318.80" r="4.75" fill="#eaa512" stroke="#463408" stroke-width="0.95"/>
<text transform="translate(328.60,322.10) scale(0.9826,1)" text-anchor="start" font-family="Liberation Serif, serif" font-size="9.2" fill="#222">Honey</text>
<circle cx="315.4" cy="330.95" r="4.75" fill="#e3238a" stroke="#4a0c2c" stroke-width="0.95"/>
<text transform="translate(328.60,334.25) scale(1.0040,1)" text-anchor="start" font-family="Liberation Serif, serif" font-size="9.2" fill="#222">Adulterated</text>
<circle cx="315.4" cy="343.10" r="4.75" fill="#4db3ec" stroke="#183a52" stroke-width="0.95"/>
<text transform="translate(328.60,346.40) scale(0.9387,1)" text-anchor="start" font-family="Liberation Serif, serif" font-size="9.2" fill="#222">Glucose</text>
<text transform="translate(204.50,373.00) scale(0.9891,1)" text-anchor="middle" font-family="Liberation Serif, serif" font-size="12.3" fill="#222">Canonical Variable 1 (77.69 %)</text>
<text transform="translate(18.60,274.80) rotate(-90) scale(0.9666,1)" text-anchor="middle" font-family="Liberation Serif, serif" font-size="12.3" fill="#222">Canonical Variable 2 (22.31 %)</text>
<rect x="408.6" y="24.8" width="136.0" height="128.89999999999998" fill="#e9e9f6" stroke="#000" stroke-width="1.3"/>
<rect x="417.44" y="33.72" width="27.65" height="25.14" fill="rgb(13,13,104)"/>
<text transform="translate(431.27,49.08)" text-anchor="middle" font-family="Liberation Serif, serif" font-size="8.6" fill="#e8e8f4">242</text>
<rect x="462.77" y="33.72" width="27.65" height="25.14" fill="rgb(8,8,215)"/>
<text transform="translate(476.60,49.08)" text-anchor="middle" font-family="Liberation Serif, serif" font-size="8.6" fill="#e8e8f4">60</text>
<rect x="508.11" y="33.72" width="27.65" height="25.14" fill="rgb(10,10,255)"/>
<text transform="translate(521.93,49.08)" text-anchor="middle" font-family="Liberation Serif, serif" font-size="8.6" fill="#e8e8f4">0</text>
<rect x="417.44" y="76.68" width="27.65" height="25.14" fill="rgb(10,10,250)"/>
<text transform="translate(431.27,92.05)" text-anchor="middle" font-family="Liberation Serif, serif" font-size="8.6" fill="#e8e8f4">8</text>
<rect x="462.77" y="76.68" width="27.65" height="25.14" fill="rgb(0,0,0)"/>
<text transform="translate(476.60,92.05)" text-anchor="middle" font-family="Liberation Serif, serif" font-size="8.6" fill="#e8e8f4">387</text>
<rect x="508.11" y="76.68" width="27.65" height="25.14" fill="rgb(10,10,255)"/>
<text transform="translate(521.93,92.05)" text-anchor="middle" font-family="Liberation Serif, serif" font-size="8.6" fill="#e8e8f4">0</text>
<rect x="417.44" y="119.65" width="27.65" height="25.14" fill="rgb(10,10,255)"/>
<text transform="translate(431.27,135.02)" text-anchor="middle" font-family="Liberation Serif, serif" font-size="8.6" fill="#e8e8f4">0</text>
<rect x="462.77" y="119.65" width="27.65" height="25.14" fill="rgb(10,10,253)"/>
<text transform="translate(476.60,135.02)" text-anchor="middle" font-family="Liberation Serif, serif" font-size="8.6" fill="#e8e8f4">3</text>
<rect x="508.11" y="119.65" width="27.65" height="25.14" fill="rgb(8,8,222)"/>
<text transform="translate(521.93,135.02)" text-anchor="middle" font-family="Liberation Serif, serif" font-size="8.6" fill="#e8e8f4">50</text>
<line x1="431.27" x2="431.27" y1="153.7" y2="156.29999999999998" stroke="#000" stroke-width="1"/>
<line x1="406.0" x2="408.6" y1="46.28" y2="46.28" stroke="#000" stroke-width="1"/>
<text transform="translate(431.77,163.40) scale(0.9351,1)" text-anchor="middle" font-family="Liberation Serif, serif" font-size="7.1" fill="#222">Honey</text>
<text transform="translate(403.80,46.28) rotate(-90) scale(0.8648,1)" text-anchor="middle" font-family="Liberation Serif, serif" font-size="7.6" fill="#222">Honey</text>
<line x1="476.60" x2="476.60" y1="153.7" y2="156.29999999999998" stroke="#000" stroke-width="1"/>
<line x1="406.0" x2="408.6" y1="89.25" y2="89.25" stroke="#000" stroke-width="1"/>
<text transform="translate(477.10,163.40) scale(0.9548,1)" text-anchor="middle" font-family="Liberation Serif, serif" font-size="7.1" fill="#222">Adulterated</text>
<text transform="translate(403.80,89.25) rotate(-90) scale(0.8831,1)" text-anchor="middle" font-family="Liberation Serif, serif" font-size="7.6" fill="#222">Adulterated</text>
<line x1="521.93" x2="521.93" y1="153.7" y2="156.29999999999998" stroke="#000" stroke-width="1"/>
<line x1="406.0" x2="408.6" y1="132.22" y2="132.22" stroke="#000" stroke-width="1"/>
<text transform="translate(522.43,163.40) scale(0.9284,1)" text-anchor="middle" font-family="Liberation Serif, serif" font-size="7.1" fill="#222">Glucose</text>
<text transform="translate(403.80,132.22) rotate(-90) scale(0.8587,1)" text-anchor="middle" font-family="Liberation Serif, serif" font-size="7.6" fill="#222">Glucose</text>
<text transform="translate(479.10,176.30) scale(1.0103,1)" text-anchor="middle" font-family="Liberation Serif, serif" font-size="10.1" fill="#222">Actual</text>
<text transform="translate(392.20,90.15) rotate(-90) scale(1.0278,1)" text-anchor="middle" font-family="Liberation Serif, serif" font-size="10.1" fill="#222">Predicted</text>
<text transform="translate(408.00,11.90) scale(1.0128,1)" text-anchor="start" font-family="Liberation Serif, serif" font-size="7.0" fill="#222">Classification Accuracy: (95.6 ± 0.8)%</text>
<text transform="translate(408.00,22.00) scale(1.0453,1)" text-anchor="start" font-family="Liberation Serif, serif" font-size="7.0" fill="#222">External Validation Accuracy: 90.5 %</text>
<text x="386.9" y="22.3" font-family="Liberation Serif, serif" font-size="12.6" fill="#222">b)</text>
<rect x="408.4" y="217.8" width="131.39999999999998" height="125.59999999999997" fill="#e9e9f6" stroke="#000" stroke-width="1.3"/>
<rect x="416.94" y="226.49" width="26.72" height="24.49" fill="rgb(13,13,100)"/>
<text transform="translate(430.30,241.45)" text-anchor="middle" font-family="Liberation Serif, serif" font-size="8.341999999999999" fill="#e8e8f4">244</text>
<rect x="460.74" y="226.49" width="26.72" height="24.49" fill="rgb(10,10,251)"/>
<text transform="translate(474.10,241.45)" text-anchor="middle" font-family="Liberation Serif, serif" font-size="8.341999999999999" fill="#e8e8f4">6</text>
<rect x="504.54" y="226.49" width="26.72" height="24.49" fill="rgb(10,10,255)"/>
<text transform="translate(517.90,241.45)" text-anchor="middle" font-family="Liberation Serif, serif" font-size="8.341999999999999" fill="#e8e8f4">0</text>
<rect x="416.94" y="268.35" width="26.72" height="24.49" fill="rgb(8,8,212)"/>
<text transform="translate(430.30,283.32)" text-anchor="middle" font-family="Liberation Serif, serif" font-size="8.341999999999999" fill="#e8e8f4">64</text>
<rect x="460.74" y="268.35" width="26.72" height="24.49" fill="rgb(0,0,0)"/>
<text transform="translate(474.10,283.32)" text-anchor="middle" font-family="Liberation Serif, serif" font-size="8.341999999999999" fill="#e8e8f4">381</text>
<rect x="504.54" y="268.35" width="26.72" height="24.49" fill="rgb(10,10,252)"/>
<text transform="translate(517.90,283.32)" text-anchor="middle" font-family="Liberation Serif, serif" font-size="8.341999999999999" fill="#e8e8f4">5</text>
<rect x="416.94" y="310.22" width="26.72" height="24.49" fill="rgb(10,10,255)"/>
<text transform="translate(430.30,325.18)" text-anchor="middle" font-family="Liberation Serif, serif" font-size="8.341999999999999" fill="#e8e8f4">0</text>
<rect x="460.74" y="310.22" width="26.72" height="24.49" fill="rgb(10,10,255)"/>
<text transform="translate(474.10,325.18)" text-anchor="middle" font-family="Liberation Serif, serif" font-size="8.341999999999999" fill="#e8e8f4">0</text>
<rect x="504.54" y="310.22" width="26.72" height="24.49" fill="rgb(8,8,222)"/>
<text transform="translate(517.90,325.18)" text-anchor="middle" font-family="Liberation Serif, serif" font-size="8.341999999999999" fill="#e8e8f4">50</text>
<line x1="430.30" x2="430.30" y1="343.4" y2="346.0" stroke="#000" stroke-width="1"/>
<line x1="405.79999999999995" x2="408.4" y1="238.73" y2="238.73" stroke="#000" stroke-width="1"/>
<text transform="translate(430.80,353.40) scale(0.9351,1)" text-anchor="middle" font-family="Liberation Serif, serif" font-size="6.887" fill="#222">Honey</text>
<text transform="translate(402.50,238.73) rotate(-90) scale(0.8648,1)" text-anchor="middle" font-family="Liberation Serif, serif" font-size="7.372" fill="#222">Honey</text>
<line x1="474.10" x2="474.10" y1="343.4" y2="346.0" stroke="#000" stroke-width="1"/>
<line x1="405.79999999999995" x2="408.4" y1="280.60" y2="280.60" stroke="#000" stroke-width="1"/>
<text transform="translate(474.60,353.40) scale(0.9548,1)" text-anchor="middle" font-family="Liberation Serif, serif" font-size="6.887" fill="#222">Adulterated</text>
<text transform="translate(402.50,280.60) rotate(-90) scale(0.8831,1)" text-anchor="middle" font-family="Liberation Serif, serif" font-size="7.372" fill="#222">Adulterated</text>
<line x1="517.90" x2="517.90" y1="343.4" y2="346.0" stroke="#000" stroke-width="1"/>
<line x1="405.79999999999995" x2="408.4" y1="322.47" y2="322.47" stroke="#000" stroke-width="1"/>
<text transform="translate(518.40,353.40) scale(0.9284,1)" text-anchor="middle" font-family="Liberation Serif, serif" font-size="6.887" fill="#222">Glucose</text>
<text transform="translate(402.50,322.47) rotate(-90) scale(0.8587,1)" text-anchor="middle" font-family="Liberation Serif, serif" font-size="7.372" fill="#222">Glucose</text>
<text transform="translate(476.00,365.70) scale(1.0103,1)" text-anchor="middle" font-family="Liberation Serif, serif" font-size="9.796999999999999" fill="#222">Actual</text>
<text transform="translate(392.00,281.50) rotate(-90) scale(1.0278,1)" text-anchor="middle" font-family="Liberation Serif, serif" font-size="9.796999999999999" fill="#222">Predicted</text>
<text transform="translate(407.80,206.60) scale(0.9853,1)" text-anchor="start" font-family="Liberation Serif, serif" font-size="7.0" fill="#222">Classification Accuracy: (90.2 ± 1.8)%</text>
<text transform="translate(407.80,215.50) scale(1.0169,1)" text-anchor="start" font-family="Liberation Serif, serif" font-size="7.0" fill="#222">External Validation Accuracy: 90.0 %</text>
<text x="386.9" y="210.6" font-family="Liberation Serif, serif" font-size="12.6" fill="#222">d)</text>
</svg></body></html>
